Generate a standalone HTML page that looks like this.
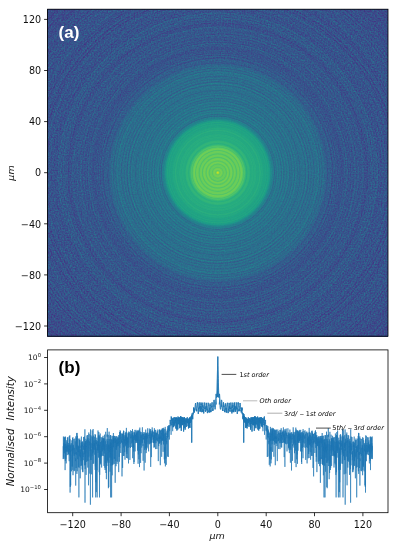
<!DOCTYPE html>
<html><head><meta charset="utf-8"><title>Figure</title>
<style>
html,body{margin:0;padding:0;background:#fff;}
body{width:394px;height:550px;overflow:hidden;}
svg{display:block}
.tk{stroke:#000;stroke-width:0.8}
.tl{font-family:"DejaVu Sans","Liberation Sans",sans-serif;font-size:9.6px;fill:#111}
.ts{font-family:"DejaVu Sans","Liberation Sans",sans-serif;font-size:7.5px;fill:#111}
.al{font-family:"DejaVu Sans","Liberation Sans",sans-serif;font-style:italic;font-size:10.2px;fill:#111}
.an{font-family:"DejaVu Sans","Liberation Sans",sans-serif;font-style:italic;font-size:6.5px;fill:#000}
.pl{font-family:"Liberation Sans",sans-serif;font-weight:bold;font-size:17px}
</style></head><body>
<svg width="394" height="550" viewBox="0 0 394 550">
<defs>
<clipPath id="ca"><rect x="47.6" y="9.2" width="340.4" height="327.0"/></clipPath>
<clipPath id="cb"><rect x="47.6" y="349.9" width="340.4" height="162.8"/></clipPath>
<filter id="nz" x="0" y="0" width="100%" height="100%" color-interpolation-filters="sRGB">
<feTurbulence type="fractalNoise" baseFrequency="0.7" numOctaves="2" seed="3" result="t"/>
<feColorMatrix in="t" type="matrix" values="-0.4 0 0 0 0.42  1.1 0 0 0 -0.24  0.25 0 0 0 0.43  0 0 0 0 1"/>
</filter>
<radialGradient id="mg" cx="217.8" cy="172.7" r="170.2" gradientUnits="userSpaceOnUse">
<stop offset="0" stop-color="#fff" stop-opacity="0"/>
<stop offset="0.15" stop-color="#fff" stop-opacity="0.0"/>
<stop offset="0.30" stop-color="#fff" stop-opacity="0.04"/>
<stop offset="0.34" stop-color="#fff" stop-opacity="0.10"/>
<stop offset="0.62" stop-color="#fff" stop-opacity="0.16"/>
<stop offset="0.68" stop-color="#fff" stop-opacity="0.22"/>
<stop offset="1" stop-color="#fff" stop-opacity="0.3"/>
</radialGradient>
<mask id="mk" maskUnits="userSpaceOnUse" x="0" y="0" width="394" height="550"><rect x="0" y="0" width="394" height="550" fill="url(#mg)"/></mask>
</defs>
<rect width="394" height="550" fill="#fff"/>
<!-- panel a -->
<g clip-path="url(#ca)">
<rect x="47.6" y="9.2" width="340.4" height="327.0" fill="#3a538b"/>
<g transform="translate(217.80,172.70)">
<circle r="249.19" fill="#3c4f8a"/>
<circle r="248.69" fill="#39568c"/>
<circle r="248.18" fill="#365c8d"/>
<circle r="247.68" fill="#375a8c"/>
<circle r="247.17" fill="#3e4a89"/>
<circle r="246.67" fill="#3f4788"/>
<circle r="246.16" fill="#3d4d8a"/>
<circle r="245.66" fill="#3c508b"/>
<circle r="245.15" fill="#3a538b"/>
<circle r="244.65" fill="#3d4d8a"/>
<circle r="244.14" fill="#443b84"/>
<circle r="243.64" fill="#3e4a89"/>
<circle r="243.13" fill="#375a8c"/>
<circle r="242.63" fill="#38598c"/>
<circle r="242.12" fill="#34608d"/>
<circle r="241.62" fill="#3b518b"/>
<circle r="241.11" fill="#3c4f8a"/>
<circle r="240.61" fill="#3a538b"/>
<circle r="240.10" fill="#3b528b"/>
<circle r="239.60" fill="#3d4e8a"/>
<circle r="239.09" fill="#3e4a89"/>
<circle r="238.59" fill="#39568c"/>
<circle r="238.08" fill="#375b8d"/>
<circle r="237.58" fill="#365d8d"/>
<circle r="237.07" fill="#39568c"/>
<circle r="236.57" fill="#3f4889"/>
<circle r="236.06" fill="#3f4788"/>
<circle r="235.56" fill="#3d4e8a"/>
<circle r="235.05" fill="#38598c"/>
<circle r="234.55" fill="#39558c"/>
<circle r="234.04" fill="#3b518b"/>
<circle r="233.54" fill="#3a548c"/>
<circle r="233.03" fill="#3e4989"/>
<circle r="232.53" fill="#3d4d8a"/>
<circle r="232.02" fill="#3b528b"/>
<circle r="231.52" fill="#3e4989"/>
<circle r="231.01" fill="#443a83"/>
<circle r="230.51" fill="#3f4788"/>
<circle r="230.00" fill="#3d4d8a"/>
<circle r="229.50" fill="#3e4a89"/>
<circle r="228.99" fill="#414287"/>
<circle r="228.48" fill="#453581"/>
<circle r="227.98" fill="#3b528b"/>
<circle r="227.47" fill="#39568c"/>
<circle r="226.97" fill="#3e4c8a"/>
<circle r="226.46" fill="#3f4788"/>
<circle r="225.96" fill="#3f4788"/>
<circle r="225.45" fill="#39558c"/>
<circle r="224.95" fill="#375a8c"/>
<circle r="224.44" fill="#375b8d"/>
<circle r="223.94" fill="#3a538b"/>
<circle r="223.43" fill="#404688"/>
<circle r="222.93" fill="#424086"/>
<circle r="222.42" fill="#3f4889"/>
<circle r="221.92" fill="#3a548c"/>
<circle r="221.41" fill="#3b528b"/>
<circle r="220.91" fill="#3c4f8a"/>
<circle r="220.40" fill="#3f4889"/>
<circle r="219.90" fill="#39568c"/>
<circle r="219.39" fill="#375b8d"/>
<circle r="218.89" fill="#3e4a89"/>
<circle r="218.38" fill="#404588"/>
<circle r="217.88" fill="#424086"/>
<circle r="217.37" fill="#3c4f8a"/>
<circle r="216.87" fill="#3c4f8a"/>
<circle r="216.36" fill="#3c508b"/>
<circle r="215.86" fill="#3c4f8a"/>
<circle r="215.35" fill="#414487"/>
<circle r="214.85" fill="#39568c"/>
<circle r="214.34" fill="#34618d"/>
<circle r="213.84" fill="#3b528b"/>
<circle r="213.33" fill="#3b518b"/>
<circle r="212.83" fill="#3a538b"/>
<circle r="212.32" fill="#404588"/>
<circle r="211.82" fill="#365d8d"/>
<circle r="211.31" fill="#34618d"/>
<circle r="210.81" fill="#3a548c"/>
<circle r="210.30" fill="#3b518b"/>
<circle r="209.80" fill="#3e4c8a"/>
<circle r="209.29" fill="#3e4c8a"/>
<circle r="208.78" fill="#38588c"/>
<circle r="208.28" fill="#365c8d"/>
<circle r="207.77" fill="#375a8c"/>
<circle r="207.27" fill="#39558c"/>
<circle r="206.76" fill="#443983"/>
<circle r="206.26" fill="#3f4889"/>
<circle r="205.75" fill="#375a8c"/>
<circle r="205.25" fill="#365c8d"/>
<circle r="204.74" fill="#32648e"/>
<circle r="204.24" fill="#365c8d"/>
<circle r="203.73" fill="#443b84"/>
<circle r="203.23" fill="#3f4889"/>
<circle r="202.72" fill="#33638d"/>
<circle r="202.22" fill="#33628d"/>
<circle r="201.71" fill="#39568c"/>
<circle r="201.21" fill="#3f4889"/>
<circle r="200.70" fill="#3d4e8a"/>
<circle r="200.20" fill="#3a538b"/>
<circle r="199.69" fill="#30698e"/>
<circle r="199.19" fill="#31668e"/>
<circle r="198.68" fill="#39568c"/>
<circle r="198.18" fill="#3a548c"/>
<circle r="197.67" fill="#3d4d8a"/>
<circle r="197.17" fill="#3c508b"/>
<circle r="196.66" fill="#375b8d"/>
<circle r="196.16" fill="#39568c"/>
<circle r="195.65" fill="#3d4d8a"/>
<circle r="195.15" fill="#365c8d"/>
<circle r="194.64" fill="#38598c"/>
<circle r="194.14" fill="#375a8c"/>
<circle r="193.63" fill="#355e8d"/>
<circle r="193.13" fill="#3b528b"/>
<circle r="192.62" fill="#3b518b"/>
<circle r="192.12" fill="#38598c"/>
<circle r="191.61" fill="#33628d"/>
<circle r="191.11" fill="#34608d"/>
<circle r="190.60" fill="#34608d"/>
<circle r="190.10" fill="#375a8c"/>
<circle r="189.59" fill="#3b528b"/>
<circle r="189.09" fill="#39558c"/>
<circle r="188.58" fill="#365d8d"/>
<circle r="188.07" fill="#38588c"/>
<circle r="187.57" fill="#414287"/>
<circle r="187.06" fill="#3b528b"/>
<circle r="186.56" fill="#365d8d"/>
<circle r="186.05" fill="#365d8d"/>
<circle r="185.55" fill="#3e4c8a"/>
<circle r="185.04" fill="#433d84"/>
<circle r="184.54" fill="#3c508b"/>
<circle r="184.03" fill="#39558c"/>
<circle r="183.53" fill="#375b8d"/>
<circle r="183.02" fill="#39568c"/>
<circle r="182.52" fill="#3a548c"/>
<circle r="182.01" fill="#365c8d"/>
<circle r="181.51" fill="#32658e"/>
<circle r="181.00" fill="#31678e"/>
<circle r="180.50" fill="#3d4d8a"/>
<circle r="179.99" fill="#424186"/>
<circle r="179.49" fill="#3f4889"/>
<circle r="178.98" fill="#3b528b"/>
<circle r="178.48" fill="#33638d"/>
<circle r="177.97" fill="#34618d"/>
<circle r="177.47" fill="#414487"/>
<circle r="176.96" fill="#433e85"/>
<circle r="176.46" fill="#39558c"/>
<circle r="175.95" fill="#38598c"/>
<circle r="175.45" fill="#375b8d"/>
<circle r="174.94" fill="#3a548c"/>
<circle r="174.44" fill="#39568c"/>
<circle r="173.93" fill="#32648e"/>
<circle r="173.43" fill="#33638d"/>
<circle r="172.92" fill="#33628d"/>
<circle r="172.42" fill="#3a548c"/>
<circle r="171.91" fill="#404588"/>
<circle r="171.41" fill="#3a548c"/>
<circle r="170.90" fill="#38598c"/>
<circle r="170.40" fill="#375a8c"/>
<circle r="169.89" fill="#39558c"/>
<circle r="169.39" fill="#38588c"/>
<circle r="168.88" fill="#32648e"/>
<circle r="168.38" fill="#38588c"/>
<circle r="167.87" fill="#38598c"/>
<circle r="167.36" fill="#39568c"/>
<circle r="166.86" fill="#3e4a89"/>
<circle r="166.35" fill="#39568c"/>
<circle r="165.85" fill="#355e8d"/>
<circle r="165.34" fill="#365c8d"/>
<circle r="164.84" fill="#375a8c"/>
<circle r="164.33" fill="#3b518b"/>
<circle r="163.83" fill="#3e4c8a"/>
<circle r="163.32" fill="#3c508b"/>
<circle r="162.82" fill="#3a548c"/>
<circle r="162.31" fill="#355e8d"/>
<circle r="161.81" fill="#375a8c"/>
<circle r="161.30" fill="#3f4788"/>
<circle r="160.80" fill="#39568c"/>
<circle r="160.29" fill="#306a8e"/>
<circle r="159.79" fill="#2f6b8e"/>
<circle r="159.28" fill="#33638d"/>
<circle r="158.78" fill="#38588c"/>
<circle r="158.27" fill="#39558c"/>
<circle r="157.77" fill="#355e8d"/>
<circle r="157.26" fill="#31678e"/>
<circle r="156.76" fill="#32658e"/>
<circle r="156.25" fill="#39568c"/>
<circle r="155.75" fill="#3e4a89"/>
<circle r="155.24" fill="#31668e"/>
<circle r="154.74" fill="#306a8e"/>
<circle r="154.23" fill="#34618d"/>
<circle r="153.73" fill="#365d8d"/>
<circle r="153.22" fill="#39558c"/>
<circle r="152.72" fill="#365d8d"/>
<circle r="152.21" fill="#3b528b"/>
<circle r="151.71" fill="#39558c"/>
<circle r="151.20" fill="#33638d"/>
<circle r="150.70" fill="#365d8d"/>
<circle r="150.19" fill="#433e85"/>
<circle r="149.69" fill="#3d4e8a"/>
<circle r="149.18" fill="#3b528b"/>
<circle r="148.68" fill="#3a538b"/>
<circle r="148.17" fill="#375b8d"/>
<circle r="147.66" fill="#3c4f8a"/>
<circle r="147.16" fill="#3d4e8a"/>
<circle r="146.65" fill="#39568c"/>
<circle r="146.15" fill="#33638d"/>
<circle r="145.64" fill="#34618d"/>
<circle r="145.14" fill="#31688e"/>
<circle r="144.63" fill="#365c8d"/>
<circle r="144.13" fill="#3a548c"/>
<circle r="143.62" fill="#38598c"/>
<circle r="143.12" fill="#365c8d"/>
<circle r="142.61" fill="#38588c"/>
<circle r="142.11" fill="#3a548c"/>
<circle r="141.60" fill="#38588c"/>
<circle r="141.10" fill="#33638d"/>
<circle r="140.59" fill="#31668e"/>
<circle r="140.09" fill="#355e8d"/>
<circle r="139.58" fill="#38598c"/>
<circle r="139.08" fill="#3e4c8a"/>
<circle r="138.57" fill="#375b8d"/>
<circle r="138.07" fill="#31678e"/>
<circle r="137.56" fill="#31688e"/>
<circle r="137.06" fill="#33628d"/>
<circle r="136.55" fill="#39558c"/>
<circle r="136.05" fill="#3d4e8a"/>
<circle r="135.54" fill="#39558c"/>
<circle r="135.04" fill="#34618d"/>
<circle r="134.53" fill="#355f8d"/>
<circle r="134.03" fill="#38598c"/>
<circle r="133.52" fill="#3b518b"/>
<circle r="133.02" fill="#3a548c"/>
<circle r="132.51" fill="#38588c"/>
<circle r="132.01" fill="#33638d"/>
<circle r="131.50" fill="#355f8d"/>
<circle r="131.00" fill="#404588"/>
<circle r="130.49" fill="#3a548c"/>
<circle r="129.99" fill="#306a8e"/>
<circle r="129.48" fill="#2f6b8e"/>
<circle r="128.98" fill="#34608d"/>
<circle r="128.47" fill="#3b528b"/>
<circle r="127.97" fill="#375b8d"/>
<circle r="127.46" fill="#34618d"/>
<circle r="126.95" fill="#365d8d"/>
<circle r="126.45" fill="#375a8c"/>
<circle r="125.94" fill="#3a538b"/>
<circle r="125.44" fill="#39558c"/>
<circle r="124.93" fill="#3b518b"/>
<circle r="124.43" fill="#3a548c"/>
<circle r="123.92" fill="#39558c"/>
<circle r="123.42" fill="#3d4e8a"/>
<circle r="122.91" fill="#39558c"/>
<circle r="122.41" fill="#33628d"/>
<circle r="121.90" fill="#3a548c"/>
<circle r="121.40" fill="#3b528b"/>
<circle r="120.89" fill="#33638d"/>
<circle r="120.39" fill="#38588c"/>
<circle r="119.88" fill="#3c508b"/>
<circle r="119.38" fill="#3a548c"/>
<circle r="118.87" fill="#31688e"/>
<circle r="118.37" fill="#32648e"/>
<circle r="117.86" fill="#404688"/>
<circle r="117.36" fill="#39558c"/>
<circle r="116.85" fill="#30698e"/>
<circle r="116.35" fill="#30698e"/>
<circle r="115.84" fill="#355f8d"/>
<circle r="115.34" fill="#3c4f8a"/>
<circle r="114.83" fill="#3c4f8a"/>
<circle r="114.33" fill="#3a548c"/>
<circle r="113.82" fill="#2e6d8e"/>
<circle r="113.32" fill="#30698e"/>
<circle r="112.81" fill="#375b8d"/>
<circle r="112.31" fill="#32658e"/>
<circle r="111.80" fill="#33628d"/>
<circle r="111.30" fill="#32658e"/>
<circle r="110.79" fill="#34618d"/>
<circle r="110.29" fill="#3a548c"/>
<circle r="109.78" fill="#38598c"/>
<circle r="109.28" fill="#31688e"/>
<circle r="108.77" fill="#30698e"/>
<circle r="108.27" fill="#30698e"/>
<circle r="107.76" fill="#2e6f8e"/>
<circle r="107.25" fill="#32658e"/>
<circle r="106.75" fill="#2e6f8e"/>
<circle r="106.24" fill="#2a768e"/>
<circle r="105.74" fill="#29798e"/>
<circle r="105.23" fill="#2c738e"/>
<circle r="104.73" fill="#375a8c"/>
<circle r="104.22" fill="#2d708e"/>
<circle r="103.72" fill="#2a788e"/>
<circle r="103.21" fill="#29798e"/>
<circle r="102.71" fill="#2d708e"/>
<circle r="102.20" fill="#365d8d"/>
<circle r="101.70" fill="#2a768e"/>
<circle r="101.19" fill="#26828e"/>
<circle r="100.69" fill="#287c8e"/>
<circle r="100.18" fill="#29798e"/>
<circle r="99.68" fill="#2a768e"/>
<circle r="99.17" fill="#306a8e"/>
<circle r="98.67" fill="#2a778e"/>
<circle r="98.16" fill="#287d8e"/>
<circle r="97.66" fill="#2a788e"/>
<circle r="97.15" fill="#2c728e"/>
<circle r="96.65" fill="#355f8d"/>
<circle r="96.14" fill="#2d718e"/>
<circle r="95.64" fill="#2a778e"/>
<circle r="95.13" fill="#297a8e"/>
<circle r="94.63" fill="#297a8e"/>
<circle r="94.12" fill="#2e6f8e"/>
<circle r="93.62" fill="#33638d"/>
<circle r="93.11" fill="#2b758e"/>
<circle r="92.61" fill="#287c8e"/>
<circle r="92.10" fill="#297b8e"/>
<circle r="91.60" fill="#2e6f8e"/>
<circle r="91.09" fill="#375a8c"/>
<circle r="90.59" fill="#2e6e8e"/>
<circle r="90.08" fill="#2a768e"/>
<circle r="89.58" fill="#24878e"/>
<circle r="89.07" fill="#25838e"/>
<circle r="88.57" fill="#2e6d8e"/>
<circle r="88.06" fill="#34618d"/>
<circle r="87.55" fill="#2c718e"/>
<circle r="87.05" fill="#2a788e"/>
<circle r="86.54" fill="#27808e"/>
<circle r="86.04" fill="#297a8e"/>
<circle r="85.53" fill="#2e6e8e"/>
<circle r="85.03" fill="#297b8e"/>
<circle r="84.52" fill="#2c738e"/>
<circle r="84.02" fill="#2a768e"/>
<circle r="83.51" fill="#297b8e"/>
<circle r="83.01" fill="#2c718e"/>
<circle r="82.50" fill="#34618d"/>
<circle r="82.00" fill="#2b758e"/>
<circle r="81.49" fill="#2a768e"/>
<circle r="80.99" fill="#2a768e"/>
<circle r="80.48" fill="#277e8e"/>
<circle r="79.98" fill="#306a8e"/>
<circle r="79.47" fill="#2b748e"/>
<circle r="78.97" fill="#287d8e"/>
<circle r="78.46" fill="#26818e"/>
<circle r="77.96" fill="#287d8e"/>
<circle r="77.45" fill="#2e6d8e"/>
<circle r="76.95" fill="#32658e"/>
<circle r="76.44" fill="#277e8e"/>
<circle r="75.94" fill="#25838e"/>
<circle r="75.43" fill="#287c8e"/>
<circle r="74.93" fill="#2b758e"/>
<circle r="74.42" fill="#33638d"/>
<circle r="73.92" fill="#2a788e"/>
<circle r="73.41" fill="#29798e"/>
<circle r="72.91" fill="#297a8e"/>
<circle r="72.40" fill="#2b748e"/>
<circle r="71.90" fill="#33628d"/>
<circle r="71.39" fill="#287c8e"/>
<circle r="70.89" fill="#24868e"/>
<circle r="70.38" fill="#277f8e"/>
<circle r="69.88" fill="#297b8e"/>
<circle r="69.37" fill="#2c738e"/>
<circle r="68.87" fill="#2e6f8e"/>
<circle r="68.36" fill="#287d8e"/>
<circle r="67.86" fill="#26828e"/>
<circle r="67.35" fill="#287d8e"/>
<circle r="66.84" fill="#2b758e"/>
<circle r="66.34" fill="#32648e"/>
<circle r="65.83" fill="#29798e"/>
<circle r="65.33" fill="#25858e"/>
<circle r="64.82" fill="#25858e"/>
<circle r="64.32" fill="#29798e"/>
<circle r="63.81" fill="#32648e"/>
<circle r="63.31" fill="#297a8e"/>
<circle r="62.80" fill="#26818e"/>
<circle r="62.30" fill="#26828e"/>
<circle r="61.79" fill="#287c8e"/>
<circle r="61.29" fill="#2e6f8e"/>
<circle r="60.78" fill="#26818e"/>
<circle r="60.28" fill="#25858e"/>
<circle r="59.77" fill="#24868e"/>
<circle r="59.27" fill="#277e8e"/>
<circle r="58.76" fill="#30698e"/>
<circle r="58.26" fill="#297a8e"/>
<circle r="57.75" fill="#27808e"/>
<circle r="57.25" fill="#2b758e"/>
<circle r="56.74" fill="#33628d"/>
<circle r="56.24" fill="#26828e"/>
<circle r="55.73" fill="#24878e"/>
<circle r="55.23" fill="#25838e"/>
<circle r="54.72" fill="#26828e"/>
<circle r="54.22" fill="#228b8d"/>
<circle r="53.71" fill="#21908d"/>
<circle r="53.21" fill="#228d8d"/>
<circle r="52.70" fill="#1f9a8a"/>
<circle r="52.20" fill="#1fa188"/>
<circle r="51.69" fill="#1fa287"/>
<circle r="51.19" fill="#1fa287"/>
<circle r="50.68" fill="#24aa83"/>
<circle r="50.18" fill="#24aa83"/>
<circle r="49.67" fill="#1fa287"/>
<circle r="49.17" fill="#21a585"/>
<circle r="48.66" fill="#22a884"/>
<circle r="48.16" fill="#25ab82"/>
<circle r="47.65" fill="#21a585"/>
<circle r="47.14" fill="#21a685"/>
<circle r="46.64" fill="#22a785"/>
<circle r="46.13" fill="#23a983"/>
<circle r="45.63" fill="#22a785"/>
<circle r="45.12" fill="#25ac82"/>
<circle r="44.62" fill="#26ad81"/>
<circle r="44.11" fill="#25ac82"/>
<circle r="43.61" fill="#22a884"/>
<circle r="43.10" fill="#2ab07f"/>
<circle r="42.60" fill="#2cb17e"/>
<circle r="42.09" fill="#2ab07f"/>
<circle r="41.59" fill="#24aa83"/>
<circle r="41.08" fill="#25ab82"/>
<circle r="40.58" fill="#26ad81"/>
<circle r="40.07" fill="#26ad81"/>
<circle r="39.57" fill="#25ab82"/>
<circle r="39.06" fill="#24aa83"/>
<circle r="38.56" fill="#2cb17e"/>
<circle r="38.05" fill="#28ae80"/>
<circle r="37.55" fill="#29af7f"/>
<circle r="37.04" fill="#2ab07f"/>
<circle r="36.54" fill="#25ac82"/>
<circle r="36.03" fill="#27ad81"/>
<circle r="35.53" fill="#2db27d"/>
<circle r="35.02" fill="#28ae80"/>
<circle r="34.52" fill="#29af7f"/>
<circle r="34.01" fill="#28ae80"/>
<circle r="33.51" fill="#27ad81"/>
<circle r="33.00" fill="#26ad81"/>
<circle r="32.50" fill="#2db27d"/>
<circle r="31.99" fill="#31b57b"/>
<circle r="31.49" fill="#34b679"/>
<circle r="30.98" fill="#35b779"/>
<circle r="30.48" fill="#34b679"/>
<circle r="29.97" fill="#31b57b"/>
<circle r="29.47" fill="#28ae80"/>
<circle r="28.96" fill="#2eb37c"/>
<circle r="28.46" fill="#35b779"/>
<circle r="27.95" fill="#3bbb75"/>
<circle r="27.45" fill="#44bf70"/>
<circle r="26.94" fill="#50c46a"/>
<circle r="26.43" fill="#52c569"/>
<circle r="25.93" fill="#40bd72"/>
<circle r="25.42" fill="#5ac864"/>
<circle r="24.92" fill="#63cb5f"/>
<circle r="24.41" fill="#69cd5b"/>
<circle r="23.91" fill="#75d054"/>
<circle r="23.40" fill="#6ece58"/>
<circle r="22.90" fill="#5ec962"/>
<circle r="22.39" fill="#4ac16d"/>
<circle r="21.89" fill="#65cb5e"/>
<circle r="21.38" fill="#6ece58"/>
<circle r="20.88" fill="#6ccd5a"/>
<circle r="20.37" fill="#6ccd5a"/>
<circle r="19.87" fill="#67cc5c"/>
<circle r="19.36" fill="#58c765"/>
<circle r="18.86" fill="#48c16e"/>
<circle r="18.35" fill="#60ca60"/>
<circle r="17.85" fill="#69cd5b"/>
<circle r="17.34" fill="#6ece58"/>
<circle r="16.84" fill="#70cf57"/>
<circle r="16.33" fill="#69cd5b"/>
<circle r="15.83" fill="#50c46a"/>
<circle r="15.32" fill="#50c46a"/>
<circle r="14.82" fill="#69cd5b"/>
<circle r="14.31" fill="#73d056"/>
<circle r="13.81" fill="#75d054"/>
<circle r="13.30" fill="#70cf57"/>
<circle r="12.80" fill="#6ece58"/>
<circle r="12.29" fill="#54c568"/>
<circle r="11.79" fill="#58c765"/>
<circle r="11.28" fill="#63cb5f"/>
<circle r="10.78" fill="#77d153"/>
<circle r="10.27" fill="#77d153"/>
<circle r="9.77" fill="#69cd5b"/>
<circle r="9.26" fill="#5ac864"/>
<circle r="8.76" fill="#4ec36b"/>
<circle r="8.25" fill="#67cc5c"/>
<circle r="7.75" fill="#67cc5c"/>
<circle r="7.24" fill="#69cd5b"/>
<circle r="6.73" fill="#6ccd5a"/>
<circle r="6.23" fill="#63cb5f"/>
<circle r="5.72" fill="#50c46a"/>
<circle r="5.22" fill="#65cb5e"/>
<circle r="4.71" fill="#6ece58"/>
<circle r="4.21" fill="#75d054"/>
<circle r="3.70" fill="#7ad151"/>
<circle r="3.20" fill="#75d054"/>
<circle r="2.69" fill="#63cb5f"/>
<circle r="2.19" fill="#65cb5e"/>
<circle r="1.68" fill="#89d548"/>
<circle r="1.18" fill="#a5db36"/>
<circle r="0.67" fill="#dfe318"/>
<circle r="0.17" fill="#fde725"/>
</g>
<g mask="url(#mk)"><rect x="47.6" y="9.2" width="340.4" height="327.0" filter="url(#nz)"/></g>
</g>
<rect x="47.6" y="9.2" width="340.4" height="327.0" fill="none" stroke="#000" stroke-width="0.8"/>
<line x1="44.1" x2="47.6" y1="19.4" y2="19.4" class="tk"/><text x="41.1" y="23.1" text-anchor="end" class="tl">120</text>
<line x1="44.1" x2="47.6" y1="70.5" y2="70.5" class="tk"/><text x="41.1" y="74.2" text-anchor="end" class="tl">80</text>
<line x1="44.1" x2="47.6" y1="121.6" y2="121.6" class="tk"/><text x="41.1" y="125.3" text-anchor="end" class="tl">40</text>
<line x1="44.1" x2="47.6" y1="172.7" y2="172.7" class="tk"/><text x="41.1" y="176.4" text-anchor="end" class="tl">0</text>
<line x1="44.1" x2="47.6" y1="223.8" y2="223.8" class="tk"/><text x="41.1" y="227.5" text-anchor="end" class="tl">−40</text>
<line x1="44.1" x2="47.6" y1="274.9" y2="274.9" class="tk"/><text x="41.1" y="278.6" text-anchor="end" class="tl">−80</text>
<line x1="44.1" x2="47.6" y1="326.0" y2="326.0" class="tk"/><text x="41.1" y="329.7" text-anchor="end" class="tl">−120</text>
<text transform="translate(13.9,173.0) rotate(-90)" text-anchor="middle" class="al" style="font-size:9.5px">µm</text>
<text x="58.6" y="37.8" class="pl" fill="#fff">(a)</text>
<!-- panel b -->
<g clip-path="url(#cb)">
<polyline points="63.1,446.2 63.2,459.1 63.3,450.3 63.4,436.5 63.5,450.4 63.6,445.7 63.7,457.5 63.8,443.3 63.9,447.0 64.0,458.9 64.1,442.0 64.2,437.3 64.3,449.8 64.4,437.6 64.5,453.3 64.6,446.2 64.7,448.6 64.8,444.2 64.9,445.5 65.0,436.6 65.1,470.1 65.2,443.7 65.3,459.0 65.4,460.8 65.5,436.8 65.6,451.7 65.7,444.4 65.8,458.9 65.9,458.0 66.0,444.6 66.1,449.7 66.2,463.4 66.3,446.5 66.4,447.7 66.5,446.7 66.6,451.8 66.7,440.3 66.8,444.6 66.9,450.7 67.0,442.3 67.1,450.7 67.2,455.1 67.3,444.6 67.4,437.5 67.5,448.0 67.6,448.5 67.7,445.3 67.8,451.5 67.9,437.2 68.0,438.9 68.1,452.3 68.2,451.7 68.3,448.4 68.4,454.3 68.5,445.6 68.6,443.1 68.7,454.4 68.8,445.0 68.9,446.2 69.0,450.5 69.1,458.8 69.2,461.2 69.3,436.1 69.4,443.2 69.5,451.5 69.6,447.1 69.7,444.3 69.8,435.3 69.9,455.4 70.0,439.2 70.1,492.6 70.2,449.8 70.3,486.9 70.4,449.2 70.5,445.4 70.6,480.5 70.7,485.4 70.8,458.6 70.9,455.0 71.0,444.4 71.1,451.4 71.2,443.1 71.3,444.7 71.4,447.7 71.5,471.3 71.6,454.2 71.7,444.4 71.8,442.7 71.9,440.3 72.0,447.9 72.1,462.0 72.2,466.8 72.3,454.9 72.4,465.7 72.5,438.1 72.6,454.7 72.7,447.9 72.8,469.9 72.9,437.2 73.0,475.2 73.1,445.8 73.2,449.6 73.3,446.8 73.4,444.9 73.5,447.4 73.6,448.4 73.8,453.3 73.9,439.0 74.0,471.2 74.1,453.1 74.2,455.9 74.3,447.8 74.4,448.0 74.5,455.0 74.6,459.8 74.7,470.7 74.8,443.1 74.9,438.5 75.0,447.1 75.1,450.0 75.2,454.1 75.3,441.4 75.4,449.5 75.5,461.1 75.6,458.4 75.7,485.6 75.8,436.4 75.9,442.3 76.0,443.5 76.1,468.0 76.2,453.6 76.3,452.0 76.4,454.9 76.5,444.8 76.6,437.9 76.7,449.3 76.8,433.1 76.9,473.9 77.0,432.9 77.1,446.4 77.2,471.2 77.3,448.0 77.4,435.9 77.5,451.9 77.6,455.5 77.7,459.1 77.8,445.0 77.9,447.5 78.0,447.8 78.1,451.8 78.2,449.9 78.3,438.6 78.4,467.2 78.5,452.6 78.6,446.3 78.7,452.3 78.8,451.2 78.9,497.4 79.0,446.4 79.1,459.2 79.2,467.7 79.3,463.1 79.4,455.5 79.5,440.0 79.6,456.4 79.7,438.6 79.8,448.0 79.9,445.5 80.0,440.3 80.1,450.4 80.2,478.3 80.3,470.9 80.4,449.5 80.5,457.4 80.6,452.2 80.7,459.2 80.8,463.9 80.9,466.0 81.0,445.7 81.1,461.1 81.2,442.9 81.3,451.4 81.4,436.6 81.5,465.4 81.6,448.3 81.7,442.1 81.8,446.5 81.9,446.1 82.0,445.3 82.1,469.5 82.2,444.8 82.3,446.3 82.4,441.3 82.5,454.3 82.6,471.7 82.7,442.1 82.8,449.7 82.9,472.2 83.0,451.1 83.1,457.0 83.2,452.7 83.3,460.2 83.4,449.3 83.5,448.7 83.6,437.0 83.7,446.7 83.8,449.8 83.9,446.0 84.0,446.7 84.1,450.4 84.2,443.6 84.3,454.3 84.4,436.6 84.5,453.9 84.6,465.3 84.7,451.8 84.8,444.7 84.9,429.3 85.0,502.7 85.1,445.6 85.2,469.1 85.3,443.1 85.4,445.5 85.5,441.3 85.6,464.8 85.7,441.3 85.8,453.1 85.9,438.8 86.0,441.9 86.1,474.9 86.2,456.2 86.3,455.8 86.4,446.0 86.5,447.2 86.6,440.2 86.7,462.0 86.8,443.2 86.9,435.5 87.0,443.9 87.1,450.7 87.2,460.7 87.3,454.8 87.5,441.7 87.6,435.0 87.7,460.3 87.8,467.6 87.9,437.9 88.0,448.7 88.1,461.0 88.2,439.9 88.3,442.9 88.4,444.1 88.5,485.3 88.6,481.0 88.7,437.6 88.8,432.5 88.9,456.6 89.0,447.2 89.1,439.5 89.2,434.2 89.3,442.8 89.4,441.5 89.5,449.4 89.6,458.6 89.7,462.2 89.8,473.6 89.9,443.2 90.0,445.1 90.1,438.8 90.2,450.8 90.3,442.1 90.4,504.7 90.5,429.4 90.6,460.0 90.7,455.9 90.8,435.1 90.9,443.8 91.0,448.1 91.1,443.2 91.2,460.1 91.3,449.4 91.4,474.3 91.5,462.9 91.6,458.6 91.7,452.6 91.8,436.4 91.9,442.9 92.0,447.9 92.1,456.2 92.2,430.3 92.3,436.5 92.4,441.5 92.5,475.6 92.6,497.4 92.7,436.8 92.8,453.5 92.9,442.6 93.0,463.8 93.1,429.0 93.2,450.0 93.3,452.3 93.4,435.6 93.5,449.7 93.6,447.8 93.7,463.6 93.8,459.0 93.9,445.7 94.0,440.6 94.1,441.4 94.2,446.5 94.3,444.0 94.4,443.2 94.5,449.8 94.6,448.4 94.7,436.8 94.8,454.7 94.9,443.3 95.0,434.2 95.1,439.0 95.2,469.9 95.3,439.9 95.4,466.2 95.5,434.8 95.6,440.3 95.7,497.4 95.8,446.5 95.9,482.2 96.0,448.6 96.1,458.6 96.2,459.6 96.3,492.1 96.4,442.4 96.5,443.9 96.6,440.2 96.7,445.7 96.8,437.7 96.9,437.8 97.0,470.2 97.1,445.5 97.2,497.4 97.3,462.2 97.4,441.1 97.5,446.2 97.6,446.4 97.7,450.2 97.8,444.2 97.9,450.3 98.0,430.5 98.1,452.9 98.2,442.7 98.3,439.1 98.4,435.7 98.5,457.6 98.6,441.9 98.7,449.7 98.8,432.0 98.9,450.7 99.0,440.5 99.1,435.0 99.2,472.2 99.3,454.8 99.4,444.9 99.5,497.4 99.6,436.4 99.7,474.9 99.8,453.8 99.9,451.5 100.0,459.2 100.1,437.0 100.2,433.5 100.3,451.5 100.4,464.4 100.5,442.0 100.6,463.2 100.7,454.5 100.8,451.0 100.9,456.2 101.0,437.2 101.2,439.3 101.3,445.2 101.4,456.4 101.5,440.7 101.6,467.5 101.7,451.2 101.8,445.9 101.9,450.9 102.0,437.5 102.1,455.6 102.2,440.6 102.3,438.8 102.4,437.6 102.5,444.0 102.6,451.4 102.7,440.5 102.8,442.5 102.9,455.8 103.0,435.8 103.1,439.4 103.2,449.9 103.3,438.2 103.4,446.6 103.5,446.7 103.6,442.7 103.7,439.1 103.8,455.9 103.9,438.3 104.0,465.9 104.1,442.6 104.2,438.6 104.3,453.5 104.4,441.2 104.5,434.7 104.6,450.5 104.7,445.2 104.8,451.0 104.9,467.8 105.0,455.5 105.1,470.0 105.2,450.7 105.3,444.1 105.4,441.3 105.5,457.2 105.6,463.1 105.7,431.8 105.8,439.1 105.9,446.7 106.0,473.0 106.1,439.4 106.2,451.3 106.3,453.1 106.4,479.2 106.5,464.0 106.6,444.3 106.7,450.0 106.8,454.8 106.9,466.0 107.0,448.4 107.1,434.5 107.2,436.8 107.3,428.1 107.4,446.5 107.5,460.6 107.6,460.2 107.7,441.1 107.8,462.6 107.9,439.2 108.0,450.4 108.1,446.2 108.2,434.9 108.3,472.1 108.4,488.2 108.5,444.6 108.6,445.7 108.7,447.1 108.8,487.1 108.9,446.7 109.0,462.8 109.1,431.7 109.2,452.5 109.3,439.2 109.4,439.1 109.5,447.1 109.6,448.1 109.7,457.6 109.8,448.6 109.9,444.6 110.0,471.7 110.1,435.4 110.2,443.4 110.3,445.8 110.4,451.6 110.5,435.0 110.6,497.4 110.7,442.1 110.8,457.3 110.9,443.0 111.0,445.4 111.1,465.7 111.2,439.3 111.3,459.6 111.4,439.4 111.5,461.3 111.6,497.4 111.7,453.6 111.8,438.9 111.9,435.7 112.0,450.8 112.1,446.6 112.2,475.3 112.3,444.2 112.4,440.0 112.5,448.1 112.6,465.2 112.7,459.1 112.8,436.1 112.9,464.7 113.0,438.5 113.1,448.8 113.2,463.8 113.3,458.4 113.4,433.0 113.5,447.3 113.6,435.9 113.7,443.1 113.8,438.4 113.9,443.2 114.0,438.5 114.1,440.7 114.2,459.1 114.3,454.0 114.4,435.9 114.5,458.4 114.6,457.3 114.7,463.9 114.8,443.9 115.0,436.0 115.1,445.2 115.2,482.8 115.3,438.2 115.4,443.0 115.5,437.6 115.6,443.2 115.7,450.2 115.8,460.9 115.9,436.5 116.0,466.2 116.1,443.6 116.2,441.3 116.3,446.5 116.4,449.9 116.5,439.4 116.6,447.5 116.7,442.0 116.8,436.0 116.9,448.8 117.0,463.9 117.1,437.1 117.2,440.8 117.3,439.6 117.4,461.7 117.5,441.8 117.6,443.6 117.7,438.2 117.8,445.6 117.9,441.5 118.0,442.1 118.1,446.1 118.2,436.9 118.3,443.4 118.4,438.5 118.5,440.4 118.6,447.8 118.7,472.1 118.8,435.1 118.9,437.9 119.0,439.2 119.1,438.4 119.2,456.9 119.3,435.5 119.4,461.7 119.5,440.8 119.6,432.0 119.7,442.8 119.8,447.9 119.9,444.4 120.0,441.1 120.1,430.3 120.2,438.9 120.3,443.9 120.4,441.4 120.5,431.4 120.6,436.6 120.7,452.2 120.8,453.0 120.9,435.5 121.0,433.0 121.1,438.5 121.2,437.2 121.3,442.2 121.4,442.2 121.5,439.5 121.6,439.3 121.7,442.8 121.8,434.1 121.9,444.0 122.0,476.4 122.1,448.2 122.2,436.8 122.3,433.9 122.4,444.3 122.5,440.8 122.6,467.9 122.7,433.7 122.8,439.6 122.9,440.1 123.0,437.8 123.1,436.6 123.2,432.5 123.3,452.0 123.4,456.0 123.5,430.6 123.6,447.4 123.7,441.8 123.8,431.0 123.9,435.4 124.0,448.7 124.1,455.8 124.2,436.6 124.3,443.1 124.4,439.9 124.5,440.9 124.6,439.1 124.7,452.2 124.8,443.5 124.9,434.9 125.0,459.7 125.1,445.3 125.2,441.1 125.3,433.1 125.4,446.3 125.5,435.8 125.6,440.6 125.7,440.2 125.8,431.9 125.9,444.9 126.0,438.7 126.1,444.1 126.2,435.3 126.3,440.3 126.4,427.9 126.5,458.0 126.6,435.9 126.7,451.6 126.8,432.5 126.9,454.0 127.0,436.9 127.1,441.8 127.2,437.5 127.3,443.3 127.4,439.4 127.5,458.3 127.6,453.6 127.7,438.3 127.8,445.3 127.9,438.1 128.0,447.9 128.1,433.5 128.2,442.5 128.3,437.4 128.4,432.7 128.5,463.4 128.7,436.3 128.8,431.5 128.9,437.1 129.0,447.3 129.1,445.7 129.2,444.7 129.3,442.2 129.4,437.9 129.5,435.2 129.6,432.2 129.7,435.2 129.8,436.5 129.9,459.9 130.0,443.6 130.1,433.8 130.2,442.4 130.3,443.0 130.4,443.0 130.5,448.0 130.6,430.3 130.7,434.0 130.8,438.0 130.9,437.0 131.0,438.7 131.1,435.5 131.2,438.0 131.3,443.4 131.4,437.8 131.5,433.5 131.6,431.0 131.7,447.0 131.8,442.5 131.9,436.9 132.0,436.9 132.1,433.3 132.2,436.5 132.3,434.2 132.4,442.6 132.5,429.1 132.6,458.2 132.7,433.0 132.8,435.0 132.9,440.2 133.0,447.9 133.1,431.6 133.2,440.1 133.3,435.3 133.4,447.4 133.5,436.7 133.6,451.5 133.7,448.9 133.8,444.7 133.9,464.0 134.0,439.0 134.1,462.0 134.2,437.6 134.3,432.2 134.4,439.4 134.5,432.6 134.6,439.7 134.7,433.1 134.8,437.8 134.9,429.9 135.0,432.8 135.1,451.4 135.2,434.8 135.3,440.3 135.4,443.1 135.5,441.3 135.6,434.8 135.7,440.8 135.8,438.1 135.9,435.9 136.0,429.9 136.1,440.4 136.2,431.4 136.3,432.7 136.4,441.2 136.5,433.1 136.6,442.8 136.7,436.8 136.8,433.6 136.9,436.6 137.0,431.4 137.1,442.4 137.2,434.4 137.3,440.3 137.4,443.0 137.5,431.6 137.6,450.7 137.7,440.6 137.8,430.2 137.9,440.9 138.0,436.1 138.1,463.8 138.2,430.9 138.3,433.2 138.4,454.4 138.5,441.5 138.6,430.6 138.7,431.9 138.8,434.9 138.9,459.3 139.0,451.2 139.1,445.2 139.2,435.0 139.3,429.5 139.4,430.6 139.5,467.1 139.6,438.6 139.7,436.8 139.8,427.6 139.9,431.0 140.0,450.6 140.1,439.8 140.2,445.1 140.3,431.6 140.4,438.9 140.5,454.0 140.6,462.9 140.7,436.2 140.8,432.3 140.9,442.9 141.0,435.4 141.1,453.2 141.2,443.1 141.3,436.8 141.4,437.6 141.5,434.6 141.6,435.3 141.7,447.6 141.8,440.5 141.9,432.2 142.0,433.7 142.1,444.5 142.2,435.1 142.4,427.3 142.5,442.8 142.6,433.5 142.7,435.4 142.8,442.0 142.9,446.1 143.0,444.2 143.1,460.8 143.2,435.2 143.3,435.4 143.4,434.0 143.5,439.6 143.6,438.3 143.7,439.0 143.8,432.2 143.9,440.5 144.0,445.3 144.1,470.5 144.2,438.3 144.3,432.5 144.4,435.4 144.5,443.1 144.6,436.1 144.7,449.9 144.8,446.6 144.9,434.5 145.0,435.0 145.1,434.8 145.2,462.7 145.3,432.8 145.4,438.7 145.5,436.4 145.6,448.4 145.7,429.6 145.8,438.0 145.9,436.8 146.0,441.2 146.1,434.1 146.2,453.1 146.3,442.1 146.4,450.1 146.5,432.9 146.6,442.0 146.7,438.3 146.8,436.3 146.9,446.9 147.0,434.0 147.1,448.3 147.2,436.9 147.3,432.4 147.4,438.4 147.5,436.2 147.6,432.2 147.7,428.3 147.8,434.3 147.9,439.5 148.0,443.7 148.1,438.9 148.2,437.8 148.3,435.0 148.4,436.5 148.5,449.1 148.6,451.4 148.7,443.4 148.8,433.5 148.9,433.4 149.0,434.8 149.1,435.9 149.2,432.5 149.3,444.3 149.4,428.6 149.5,433.7 149.6,433.6 149.7,438.2 149.8,433.8 149.9,430.7 150.0,430.9 150.1,443.8 150.2,437.6 150.3,442.6 150.4,439.4 150.5,432.6 150.6,429.0 150.7,466.9 150.8,431.6 150.9,430.5 151.0,437.7 151.1,442.9 151.2,435.6 151.3,433.4 151.4,457.1 151.5,436.6 151.6,434.3 151.7,442.4 151.8,431.4 151.9,442.6 152.0,439.0 152.1,435.1 152.2,427.4 152.3,433.4 152.4,437.3 152.5,430.3 152.6,430.9 152.7,434.2 152.8,435.6 152.9,431.8 153.0,439.7 153.1,437.7 153.2,435.3 153.3,431.7 153.4,443.0 153.5,437.9 153.6,442.9 153.7,435.6 153.8,438.3 153.9,447.6 154.0,434.9 154.1,438.2 154.2,433.0 154.3,433.4 154.4,428.2 154.5,447.2 154.6,433.1 154.7,432.5 154.8,443.1 154.9,429.9 155.0,441.4 155.1,437.7 155.2,436.2 155.3,433.0 155.4,432.7 155.5,436.2 155.6,449.1 155.7,429.9 155.8,435.3 155.9,443.2 156.1,440.8 156.2,437.8 156.3,437.3 156.4,433.6 156.5,440.1 156.6,432.6 156.7,434.2 156.8,433.4 156.9,449.0 157.0,438.0 157.1,440.8 157.2,437.9 157.3,431.2 157.4,435.2 157.5,439.7 157.6,441.4 157.7,431.5 157.8,429.5 157.9,433.3 158.0,434.1 158.1,433.9 158.2,438.7 158.3,461.1 158.4,434.4 158.5,442.6 158.6,444.3 158.7,446.1 158.8,436.9 158.9,436.7 159.0,441.9 159.1,443.5 159.2,437.5 159.3,430.0 159.4,439.0 159.5,429.3 159.6,443.3 159.7,441.9 159.8,436.3 159.9,443.3 160.0,430.1 160.1,430.6 160.2,441.5 160.3,465.2 160.4,437.2 160.5,438.9 160.6,430.8 160.7,439.0 160.8,435.9 160.9,437.4 161.0,442.1 161.1,432.1 161.2,429.4 161.3,444.7 161.4,429.9 161.5,434.5 161.6,433.0 161.7,456.8 161.8,435.1 161.9,440.7 162.0,438.2 162.1,440.3 162.2,434.2 162.3,428.1 162.4,435.0 162.5,440.5 162.6,429.1 162.7,435.6 162.8,428.9 162.9,440.9 163.0,444.3 163.1,451.8 163.2,431.5 163.3,440.4 163.4,427.8 163.5,444.4 163.6,430.4 163.7,440.5 163.8,437.1 163.9,435.6 164.0,428.6 164.1,435.5 164.2,436.7 164.3,459.4 164.4,433.5 164.5,437.9 164.6,463.3 164.7,447.2 164.8,451.3 164.9,442.7 165.0,429.1 165.1,441.1 165.2,426.9 165.3,436.4 165.4,466.4 165.5,433.8 165.6,433.5 165.7,441.4 165.8,458.5 165.9,432.5 166.0,433.3 166.1,433.6 166.2,459.8 166.3,464.8 166.4,437.5 166.5,442.4 166.6,441.0 166.7,444.2 166.8,436.0 166.9,437.0 167.0,431.1 167.1,435.1 167.2,429.6 167.3,432.6 167.4,438.1 167.5,433.1 167.6,456.5 167.7,426.2 167.8,432.7 167.9,430.9 168.0,436.9 168.1,428.3 168.2,430.7 168.3,457.0 168.4,426.2 168.5,429.6 168.6,428.6 168.7,429.4 168.8,425.0 168.9,431.4 169.0,429.9 169.1,426.5 169.2,427.4 169.3,427.7 169.4,439.5 169.5,425.1 169.6,430.8 169.7,430.3 169.9,427.3 170.0,419.9 170.1,420.8 170.2,421.5 170.3,424.2 170.4,424.5 170.5,423.0 170.6,420.0 170.7,420.9 170.8,426.2 170.9,425.3 171.0,422.2 171.1,434.8 171.2,416.2 171.3,421.3 171.4,417.2 171.5,420.1 171.6,417.6 171.7,425.2 171.8,423.7 171.9,425.0 172.0,419.2 172.1,421.7 172.2,423.0 172.3,422.3 172.4,420.2 172.5,418.7 172.6,430.5 172.7,431.2 172.8,419.1 172.9,417.9 173.0,425.9 173.1,427.3 173.2,418.6 173.3,418.2 173.4,419.8 173.5,426.4 173.6,422.9 173.7,426.1 173.8,426.5 173.9,424.7 174.0,419.2 174.1,417.2 174.2,419.2 174.3,422.9 174.4,425.5 174.5,422.1 174.6,420.7 174.7,422.5 174.8,423.5 174.9,422.2 175.0,417.8 175.1,417.3 175.2,422.4 175.3,420.5 175.4,420.8 175.5,421.1 175.6,417.8 175.7,420.5 175.8,428.5 175.9,418.7 176.0,420.1 176.1,418.4 176.2,422.4 176.3,420.6 176.4,420.9 176.5,417.4 176.6,423.6 176.7,428.8 176.8,418.0 176.9,430.5 177.0,418.5 177.1,419.0 177.2,418.8 177.3,425.8 177.4,423.2 177.5,426.4 177.6,421.7 177.7,420.6 177.8,429.4 177.9,420.4 178.0,416.6 178.1,420.2 178.2,419.4 178.3,419.9 178.4,417.7 178.5,419.5 178.6,423.9 178.7,420.1 178.8,417.7 178.9,418.6 179.0,424.4 179.1,421.3 179.2,423.5 179.3,422.2 179.4,420.4 179.5,417.5 179.6,423.6 179.7,428.2 179.8,422.2 179.9,419.0 180.0,421.7 180.1,421.7 180.2,424.8 180.3,417.7 180.4,422.7 180.5,417.0 180.6,416.3 180.7,427.4 180.8,416.4 180.9,418.7 181.0,418.5 181.1,425.3 181.2,422.5 181.3,430.8 181.4,420.9 181.5,424.7 181.6,417.1 181.7,423.3 181.8,421.4 181.9,425.3 182.0,423.4 182.1,418.3 182.2,425.0 182.3,417.3 182.4,420.6 182.5,419.7 182.6,421.4 182.7,418.3 182.8,419.2 182.9,420.3 183.0,424.8 183.1,417.3 183.2,419.4 183.3,418.3 183.4,421.5 183.6,431.5 183.7,421.9 183.8,423.0 183.9,418.7 184.0,421.5 184.1,420.9 184.2,419.5 184.3,424.0 184.4,417.0 184.5,423.5 184.6,419.0 184.7,418.3 184.8,420.7 184.9,427.9 185.0,421.8 185.1,429.6 185.2,422.4 185.3,421.0 185.4,420.7 185.5,424.4 185.6,421.0 185.7,421.0 185.8,418.5 185.9,418.6 186.0,421.1 186.1,418.9 186.2,418.5 186.3,418.6 186.4,420.8 186.5,421.8 186.6,426.8 186.7,422.4 186.8,419.8 186.9,421.6 187.0,422.2 187.1,418.8 187.2,418.7 187.3,417.3 187.4,422.8 187.5,420.1 187.6,421.3 187.7,419.8 187.8,419.0 187.9,423.2 188.0,421.5 188.1,426.0 188.2,425.6 188.3,419.1 188.4,422.8 188.5,428.4 188.6,420.1 188.7,419.5 188.8,423.4 188.9,418.4 189.0,423.9 189.1,421.2 189.2,420.7 189.3,427.5 189.4,421.4 189.5,423.2 189.6,417.6 189.7,421.8 189.8,420.1 189.9,422.8 190.0,427.8 190.1,418.3 190.2,417.2 190.3,418.4 190.4,422.4 190.5,419.3 190.6,422.5 190.7,418.0 190.8,418.4 190.9,422.1 191.0,419.3 191.1,420.2 191.2,416.2 191.3,420.7 191.4,416.7 191.5,415.9 191.6,421.1 191.7,442.6 191.8,416.6 191.9,415.0 192.0,418.7 192.1,413.5 192.2,414.7 192.3,414.9 192.4,417.6 192.5,416.7 192.6,416.4 192.7,419.2 192.8,416.3 192.9,415.8 193.0,413.6 193.1,412.7 193.2,413.4 193.3,414.2 193.4,413.6 193.5,411.4 193.6,407.8 193.7,410.2 193.8,407.6 193.9,410.4 194.0,408.8 194.1,411.4 194.2,410.6 194.3,412.6 194.4,410.8 194.5,410.8 194.6,410.6 194.7,411.1 194.8,409.8 194.9,409.7 195.0,409.2 195.1,409.1 195.2,406.1 195.3,404.8 195.4,404.4 195.5,403.0 195.6,403.2 195.7,405.4 195.8,405.5 195.9,405.7 196.0,407.6 196.1,408.8 196.2,410.0 196.3,409.6 196.4,411.0 196.5,411.1 196.6,409.7 196.7,411.2 196.8,407.5 196.9,407.0 197.0,406.1 197.1,405.4 197.3,403.0 197.4,402.3 197.5,402.9 197.6,404.0 197.7,403.7 197.8,405.9 197.9,407.9 198.0,408.3 198.1,409.8 198.2,410.8 198.3,413.9 198.4,411.4 198.5,410.3 198.6,410.2 198.7,407.8 198.8,409.3 198.9,406.6 199.0,404.8 199.1,403.5 199.2,403.0 199.3,402.5 199.4,403.5 199.5,407.8 199.6,407.3 199.7,406.5 199.8,409.4 199.9,411.3 200.0,411.3 200.1,411.2 200.2,410.5 200.3,411.6 200.4,408.3 200.5,410.5 200.6,407.0 200.7,407.6 200.8,405.8 200.9,407.1 201.0,402.5 201.1,404.8 201.2,403.7 201.3,406.6 201.4,409.1 201.5,407.7 201.6,407.7 201.7,410.5 201.8,412.2 201.9,411.1 202.0,410.8 202.1,410.6 202.2,409.4 202.3,412.0 202.4,407.7 202.5,405.4 202.6,406.5 202.7,403.3 202.8,402.7 202.9,404.6 203.0,404.8 203.1,405.0 203.2,407.5 203.3,406.8 203.4,408.3 203.5,411.7 203.6,409.8 203.7,413.4 203.8,411.5 203.9,410.9 204.0,409.6 204.1,408.8 204.2,406.8 204.3,406.1 204.4,405.2 204.5,405.0 204.6,404.1 204.7,402.6 204.8,404.2 204.9,408.9 205.0,408.9 205.1,407.8 205.2,408.3 205.3,410.1 205.4,411.1 205.5,411.5 205.6,411.8 205.7,410.2 205.8,410.6 205.9,410.6 206.0,406.3 206.1,408.5 206.2,405.6 206.3,403.7 206.4,403.8 206.5,402.9 206.6,406.4 206.7,406.6 206.8,406.6 206.9,409.0 207.0,410.2 207.1,408.9 207.2,411.1 207.3,412.4 207.4,412.2 207.5,413.1 207.6,411.8 207.7,407.4 207.8,406.1 207.9,405.6 208.0,404.4 208.1,403.9 208.2,402.8 208.3,403.3 208.4,403.8 208.5,404.5 208.6,406.1 208.7,406.4 208.8,408.1 208.9,412.0 209.0,410.7 209.1,410.5 209.2,412.7 209.3,411.4 209.4,409.6 209.5,407.9 209.6,410.2 209.7,407.1 209.8,404.9 209.9,404.7 210.0,403.9 210.1,403.5 210.2,403.5 210.3,405.7 210.4,405.2 210.5,406.8 210.6,409.7 210.7,412.2 210.8,410.5 211.0,411.6 211.1,411.3 211.2,411.1 211.3,408.8 211.4,408.4 211.5,407.0 211.6,406.2 211.7,406.8 211.8,404.0 211.9,403.7 212.0,403.1 212.1,402.4 212.2,406.1 212.3,405.9 212.4,407.5 212.5,408.1 212.6,410.4 212.7,410.7 212.8,410.1 212.9,410.7 213.0,410.3 213.1,409.5 213.2,409.8 213.3,408.1 213.4,406.8 213.5,405.6 213.6,404.1 213.7,402.6 213.8,401.4 213.9,400.6 214.0,400.0 214.1,399.9 214.2,400.2 214.3,400.9 214.4,401.9 214.5,403.2 214.6,404.7 214.7,406.1 214.8,407.4 214.9,408.4 215.0,409.0 215.1,409.3 215.2,409.1 215.3,408.4 215.4,407.4 215.5,405.8 215.6,403.7 215.7,401.3 215.8,398.9 215.9,396.8 216.0,395.1 216.1,394.1 216.2,393.9 216.3,394.3 216.4,395.2 216.5,396.4 216.6,397.4 216.7,397.6 216.8,396.5 216.9,394.1 217.0,390.7 217.1,386.9 217.2,382.7 217.3,378.5 217.4,374.1 217.5,369.8 217.6,365.4 217.7,361.0 217.8,356.6 217.9,361.0 218.0,365.4 218.1,369.8 218.2,374.1 218.3,378.5 218.4,382.7 218.5,386.9 218.6,390.7 218.7,394.1 218.8,396.5 218.9,397.6 219.0,397.4 219.1,396.4 219.2,395.2 219.3,394.3 219.4,393.9 219.5,394.1 219.6,395.1 219.7,396.8 219.8,398.9 219.9,401.3 220.0,403.7 220.1,405.8 220.2,407.4 220.3,408.4 220.4,409.1 220.5,409.3 220.6,409.0 220.7,408.4 220.8,407.4 220.9,406.1 221.0,404.7 221.1,403.2 221.2,401.9 221.3,400.9 221.4,400.2 221.5,399.9 221.6,400.0 221.7,400.6 221.8,401.4 221.9,402.6 222.0,404.1 222.1,405.6 222.2,406.8 222.3,408.1 222.4,409.8 222.5,409.5 222.6,410.3 222.7,410.7 222.8,410.1 222.9,410.7 223.0,410.4 223.1,408.1 223.2,407.5 223.3,405.9 223.4,406.1 223.5,402.4 223.6,403.1 223.7,403.7 223.8,404.0 223.9,406.8 224.0,406.2 224.1,407.0 224.2,408.4 224.3,408.8 224.4,411.1 224.5,411.3 224.6,411.6 224.8,410.5 224.9,412.2 225.0,409.7 225.1,406.8 225.2,405.2 225.3,405.7 225.4,403.5 225.5,403.5 225.6,403.9 225.7,404.7 225.8,404.9 225.9,407.1 226.0,410.2 226.1,407.9 226.2,409.6 226.3,411.4 226.4,412.7 226.5,410.5 226.6,410.7 226.7,412.0 226.8,408.1 226.9,406.4 227.0,406.1 227.1,404.5 227.2,403.8 227.3,403.3 227.4,402.8 227.5,403.9 227.6,404.4 227.7,405.6 227.8,406.1 227.9,407.4 228.0,411.8 228.1,413.1 228.2,412.2 228.3,412.4 228.4,411.1 228.5,408.9 228.6,410.2 228.7,409.0 228.8,406.6 228.9,406.6 229.0,406.4 229.1,402.9 229.2,403.8 229.3,403.7 229.4,405.6 229.5,408.5 229.6,406.3 229.7,410.6 229.8,410.6 229.9,410.2 230.0,411.8 230.1,411.5 230.2,411.1 230.3,410.1 230.4,408.3 230.5,407.8 230.6,408.9 230.7,408.9 230.8,404.2 230.9,402.6 231.0,404.1 231.1,405.0 231.2,405.2 231.3,406.1 231.4,406.8 231.5,408.8 231.6,409.6 231.7,410.9 231.8,411.5 231.9,413.4 232.0,409.8 232.1,411.7 232.2,408.3 232.3,406.8 232.4,407.5 232.5,405.0 232.6,404.8 232.7,404.6 232.8,402.7 232.9,403.3 233.0,406.5 233.1,405.4 233.2,407.7 233.3,412.0 233.4,409.4 233.5,410.6 233.6,410.8 233.7,411.1 233.8,412.2 233.9,410.5 234.0,407.7 234.1,407.7 234.2,409.1 234.3,406.6 234.4,403.7 234.5,404.8 234.6,402.5 234.7,407.1 234.8,405.8 234.9,407.6 235.0,407.0 235.1,410.5 235.2,408.3 235.3,411.6 235.4,410.5 235.5,411.2 235.6,411.3 235.7,411.3 235.8,409.4 235.9,406.5 236.0,407.3 236.1,407.8 236.2,403.5 236.3,402.5 236.4,403.0 236.5,403.5 236.6,404.8 236.7,406.6 236.8,409.3 236.9,407.8 237.0,410.2 237.1,410.3 237.2,411.4 237.3,413.9 237.4,410.8 237.5,409.8 237.6,408.3 237.7,407.9 237.8,405.9 237.9,403.7 238.0,404.0 238.1,402.9 238.2,402.3 238.3,403.0 238.5,405.4 238.6,406.1 238.7,407.0 238.8,407.5 238.9,411.2 239.0,409.7 239.1,411.1 239.2,411.0 239.3,409.6 239.4,410.0 239.5,408.8 239.6,407.6 239.7,405.7 239.8,405.5 239.9,405.4 240.0,403.2 240.1,403.0 240.2,404.4 240.3,404.8 240.4,406.1 240.5,409.1 240.6,409.2 240.7,409.7 240.8,409.8 240.9,411.1 241.0,410.6 241.1,410.8 241.2,410.8 241.3,412.6 241.4,410.6 241.5,411.4 241.6,408.8 241.7,410.4 241.8,407.6 241.9,410.2 242.0,407.8 242.1,411.4 242.2,413.6 242.3,414.2 242.4,413.4 242.5,412.7 242.6,413.6 242.7,415.8 242.8,416.3 242.9,419.2 243.0,416.4 243.1,416.7 243.2,417.6 243.3,414.9 243.4,414.7 243.5,413.5 243.6,418.7 243.7,442.6 243.8,416.6 243.9,414.1 244.0,421.1 244.1,415.9 244.2,416.7 244.3,420.7 244.4,416.2 244.5,420.2 244.6,419.3 244.7,422.1 244.8,418.4 244.9,418.0 245.0,422.5 245.1,419.3 245.2,422.4 245.3,418.4 245.4,417.2 245.5,418.3 245.6,427.8 245.7,422.8 245.8,420.1 245.9,421.8 246.0,417.6 246.1,423.2 246.2,421.4 246.3,427.5 246.4,420.7 246.5,421.2 246.6,423.9 246.7,418.4 246.8,423.4 246.9,419.5 247.0,420.1 247.1,428.4 247.2,422.8 247.3,419.1 247.4,425.6 247.5,426.0 247.6,421.5 247.7,423.2 247.8,419.0 247.9,419.8 248.0,421.3 248.1,420.1 248.2,422.8 248.3,417.3 248.4,418.7 248.5,418.8 248.6,422.2 248.7,421.6 248.8,419.8 248.9,422.4 249.0,426.8 249.1,421.8 249.2,420.8 249.3,418.6 249.4,418.5 249.5,418.9 249.6,421.1 249.7,418.6 249.8,418.5 249.9,421.0 250.0,421.0 250.1,424.4 250.2,420.7 250.3,421.0 250.4,422.4 250.5,429.6 250.6,421.8 250.7,427.9 250.8,420.7 250.9,418.3 251.0,419.0 251.1,423.5 251.2,417.0 251.3,424.0 251.4,419.5 251.5,420.9 251.6,421.5 251.7,418.7 251.8,423.0 251.9,421.9 252.0,431.5 252.2,421.5 252.3,418.3 252.4,419.4 252.5,417.3 252.6,424.8 252.7,420.3 252.8,419.2 252.9,418.3 253.0,421.4 253.1,419.7 253.2,420.6 253.3,417.3 253.4,425.0 253.5,418.3 253.6,423.4 253.7,425.3 253.8,421.4 253.9,423.3 254.0,417.1 254.1,424.7 254.2,420.9 254.3,430.8 254.4,422.5 254.5,425.3 254.6,418.5 254.7,418.7 254.8,416.4 254.9,427.4 255.0,416.3 255.1,417.0 255.2,422.7 255.3,417.7 255.4,424.8 255.5,421.7 255.6,421.7 255.7,419.0 255.8,422.2 255.9,428.2 256.0,423.6 256.1,417.5 256.2,420.4 256.3,422.2 256.4,423.5 256.5,421.3 256.6,424.4 256.7,418.6 256.8,417.7 256.9,420.1 257.0,423.9 257.1,419.5 257.2,417.7 257.3,419.9 257.4,419.4 257.5,420.2 257.6,416.6 257.7,420.4 257.8,429.4 257.9,420.6 258.0,421.7 258.1,426.4 258.2,423.2 258.3,425.8 258.4,418.8 258.5,419.0 258.6,418.5 258.7,430.5 258.8,418.0 258.9,428.8 259.0,423.6 259.1,417.4 259.2,420.9 259.3,420.6 259.4,422.4 259.5,418.4 259.6,420.1 259.7,418.7 259.8,428.5 259.9,420.5 260.0,417.8 260.1,421.1 260.2,420.8 260.3,420.5 260.4,422.4 260.5,417.3 260.6,417.8 260.7,422.2 260.8,423.5 260.9,422.5 261.0,420.7 261.1,422.1 261.2,425.5 261.3,422.9 261.4,419.2 261.5,417.2 261.6,419.2 261.7,424.7 261.8,426.5 261.9,426.1 262.0,422.9 262.1,426.4 262.2,419.8 262.3,418.2 262.4,418.6 262.5,427.3 262.6,425.9 262.7,417.9 262.8,419.1 262.9,431.2 263.0,430.5 263.1,418.7 263.2,420.2 263.3,422.3 263.4,423.0 263.5,421.7 263.6,419.2 263.7,425.0 263.8,423.7 263.9,425.2 264.0,417.6 264.1,420.1 264.2,417.2 264.3,421.3 264.4,416.2 264.5,434.8 264.6,422.2 264.7,425.3 264.8,426.2 264.9,420.9 265.0,420.0 265.1,423.0 265.2,424.5 265.3,424.2 265.4,421.5 265.5,420.8 265.6,419.9 265.7,427.3 265.9,430.3 266.0,430.8 266.1,425.1 266.2,439.5 266.3,427.7 266.4,427.4 266.5,426.5 266.6,429.9 266.7,431.4 266.8,425.0 266.9,429.4 267.0,428.6 267.1,429.6 267.2,426.2 267.3,457.0 267.4,430.7 267.5,428.3 267.6,436.9 267.7,430.9 267.8,432.7 267.9,426.2 268.0,456.5 268.1,433.1 268.2,438.1 268.3,432.6 268.4,429.6 268.5,435.1 268.6,431.1 268.7,437.0 268.8,436.0 268.9,444.2 269.0,441.0 269.1,442.4 269.2,437.5 269.3,464.8 269.4,459.8 269.5,433.6 269.6,433.3 269.7,432.5 269.8,458.5 269.9,441.4 270.0,433.5 270.1,433.8 270.2,466.4 270.3,436.4 270.4,426.9 270.5,441.1 270.6,429.1 270.7,442.7 270.8,451.3 270.9,447.2 271.0,463.3 271.1,437.9 271.2,433.5 271.3,459.4 271.4,436.7 271.5,435.5 271.6,428.6 271.7,435.6 271.8,437.1 271.9,440.5 272.0,430.4 272.1,444.4 272.2,427.8 272.3,440.4 272.4,431.5 272.5,451.8 272.6,444.3 272.7,440.9 272.8,428.9 272.9,435.6 273.0,429.1 273.1,440.5 273.2,435.0 273.3,428.1 273.4,434.2 273.5,440.3 273.6,438.2 273.7,440.7 273.8,435.1 273.9,456.8 274.0,433.0 274.1,434.5 274.2,429.9 274.3,444.7 274.4,429.4 274.5,432.1 274.6,442.1 274.7,437.4 274.8,435.9 274.9,439.0 275.0,430.8 275.1,438.9 275.2,437.2 275.3,465.2 275.4,441.5 275.5,430.6 275.6,430.1 275.7,443.3 275.8,436.3 275.9,441.9 276.0,443.3 276.1,429.3 276.2,439.0 276.3,430.0 276.4,437.5 276.5,443.5 276.6,441.9 276.7,436.7 276.8,436.9 276.9,446.1 277.0,444.3 277.1,442.6 277.2,434.4 277.3,461.1 277.4,438.7 277.5,433.9 277.6,434.1 277.7,433.3 277.8,429.5 277.9,431.5 278.0,441.4 278.1,439.7 278.2,435.2 278.3,431.2 278.4,437.9 278.5,440.8 278.6,438.0 278.7,449.0 278.8,433.4 278.9,434.2 279.0,432.6 279.1,440.1 279.2,433.6 279.3,437.3 279.4,437.8 279.5,440.8 279.7,443.2 279.8,435.3 279.9,429.9 280.0,449.1 280.1,436.2 280.2,432.7 280.3,433.0 280.4,436.2 280.5,437.7 280.6,441.4 280.7,429.9 280.8,443.1 280.9,432.5 281.0,433.1 281.1,447.2 281.2,428.2 281.3,433.4 281.4,433.0 281.5,438.2 281.6,434.9 281.7,447.6 281.8,438.3 281.9,435.6 282.0,442.9 282.1,437.9 282.2,443.0 282.3,431.7 282.4,435.3 282.5,437.7 282.6,439.7 282.7,431.8 282.8,435.6 282.9,434.2 283.0,430.9 283.1,430.3 283.2,437.3 283.3,433.4 283.4,427.4 283.5,435.1 283.6,439.0 283.7,442.6 283.8,431.4 283.9,442.4 284.0,434.3 284.1,436.6 284.2,457.1 284.3,433.4 284.4,435.6 284.5,442.9 284.6,437.7 284.7,430.5 284.8,431.6 284.9,466.9 285.0,429.0 285.1,432.6 285.2,439.4 285.3,442.6 285.4,437.6 285.5,443.8 285.6,430.9 285.7,430.7 285.8,433.8 285.9,438.2 286.0,433.6 286.1,433.7 286.2,428.6 286.3,444.3 286.4,432.5 286.5,435.9 286.6,434.8 286.7,433.4 286.8,433.5 286.9,443.4 287.0,451.4 287.1,449.1 287.2,436.5 287.3,435.0 287.4,437.8 287.5,438.9 287.6,443.7 287.7,439.5 287.8,434.3 287.9,428.3 288.0,432.2 288.1,436.2 288.2,438.4 288.3,432.4 288.4,436.9 288.5,448.3 288.6,434.0 288.7,446.9 288.8,436.3 288.9,438.3 289.0,442.0 289.1,432.9 289.2,450.1 289.3,442.1 289.4,453.1 289.5,434.1 289.6,441.2 289.7,436.8 289.8,438.0 289.9,429.6 290.0,448.4 290.1,436.4 290.2,438.7 290.3,432.8 290.4,462.7 290.5,434.8 290.6,435.0 290.7,434.5 290.8,446.6 290.9,449.9 291.0,436.1 291.1,443.1 291.2,435.4 291.3,432.5 291.4,438.3 291.5,470.5 291.6,445.3 291.7,440.5 291.8,432.2 291.9,439.0 292.0,438.3 292.1,439.6 292.2,434.0 292.3,435.4 292.4,435.2 292.5,460.8 292.6,444.2 292.7,446.1 292.8,442.0 292.9,435.4 293.0,433.5 293.1,442.8 293.2,427.3 293.4,435.1 293.5,444.5 293.6,433.7 293.7,432.2 293.8,440.5 293.9,447.6 294.0,435.3 294.1,434.6 294.2,437.6 294.3,436.8 294.4,443.1 294.5,453.2 294.6,435.4 294.7,442.9 294.8,432.3 294.9,436.2 295.0,462.9 295.1,454.0 295.2,438.9 295.3,431.6 295.4,445.1 295.5,439.8 295.6,450.6 295.7,431.0 295.8,427.6 295.9,436.8 296.0,438.6 296.1,467.1 296.2,430.6 296.3,429.5 296.4,435.0 296.5,445.2 296.6,451.2 296.7,459.3 296.8,434.9 296.9,431.9 297.0,430.6 297.1,441.5 297.2,454.4 297.3,433.2 297.4,430.9 297.5,463.8 297.6,436.1 297.7,440.9 297.8,430.2 297.9,440.6 298.0,450.7 298.1,431.6 298.2,443.0 298.3,440.3 298.4,434.4 298.5,442.4 298.6,431.4 298.7,436.6 298.8,433.6 298.9,436.8 299.0,442.8 299.1,433.1 299.2,441.2 299.3,432.7 299.4,431.4 299.5,440.4 299.6,429.9 299.7,435.9 299.8,438.1 299.9,440.8 300.0,434.8 300.1,441.3 300.2,443.1 300.3,440.3 300.4,434.8 300.5,451.4 300.6,432.8 300.7,429.9 300.8,437.8 300.9,433.1 301.0,439.7 301.1,432.6 301.2,439.4 301.3,432.2 301.4,437.6 301.5,462.0 301.6,439.0 301.7,464.0 301.8,444.7 301.9,448.9 302.0,451.5 302.1,436.7 302.2,447.4 302.3,435.3 302.4,440.1 302.5,431.6 302.6,447.9 302.7,440.2 302.8,435.0 302.9,433.0 303.0,458.2 303.1,429.1 303.2,442.6 303.3,434.2 303.4,436.5 303.5,433.3 303.6,436.9 303.7,436.9 303.8,442.5 303.9,447.0 304.0,431.0 304.1,433.5 304.2,437.8 304.3,443.4 304.4,438.0 304.5,435.5 304.6,438.7 304.7,437.0 304.8,438.0 304.9,434.0 305.0,430.3 305.1,448.0 305.2,443.0 305.3,443.0 305.4,442.4 305.5,433.8 305.6,443.6 305.7,459.9 305.8,436.5 305.9,435.2 306.0,432.2 306.1,435.2 306.2,437.9 306.3,442.2 306.4,444.7 306.5,445.7 306.6,447.3 306.7,437.1 306.8,431.5 306.9,436.3 307.1,463.4 307.2,432.7 307.3,437.4 307.4,442.5 307.5,433.5 307.6,447.9 307.7,438.1 307.8,445.3 307.9,438.3 308.0,453.6 308.1,458.3 308.2,439.4 308.3,443.3 308.4,437.5 308.5,441.8 308.6,436.9 308.7,454.0 308.8,432.5 308.9,451.6 309.0,435.9 309.1,458.0 309.2,427.9 309.3,440.3 309.4,435.3 309.5,444.1 309.6,438.7 309.7,444.9 309.8,431.9 309.9,440.2 310.0,440.6 310.1,435.8 310.2,446.3 310.3,433.1 310.4,441.1 310.5,445.3 310.6,459.7 310.7,434.9 310.8,443.5 310.9,452.2 311.0,439.1 311.1,440.9 311.2,439.9 311.3,443.1 311.4,436.6 311.5,455.8 311.6,448.7 311.7,435.4 311.8,431.0 311.9,441.8 312.0,447.4 312.1,430.6 312.2,456.0 312.3,452.0 312.4,432.5 312.5,436.6 312.6,437.8 312.7,440.1 312.8,439.6 312.9,433.7 313.0,467.9 313.1,440.8 313.2,444.3 313.3,433.9 313.4,436.8 313.5,448.2 313.6,476.4 313.7,444.0 313.8,434.1 313.9,442.8 314.0,439.3 314.1,439.5 314.2,442.2 314.3,442.2 314.4,437.2 314.5,438.5 314.6,433.0 314.7,435.5 314.8,453.0 314.9,452.2 315.0,436.6 315.1,431.4 315.2,441.4 315.3,443.9 315.4,438.9 315.5,430.3 315.6,441.1 315.7,444.4 315.8,447.9 315.9,442.8 316.0,432.0 316.1,440.8 316.2,461.7 316.3,435.5 316.4,456.9 316.5,438.4 316.6,439.2 316.7,437.9 316.8,435.1 316.9,472.1 317.0,447.8 317.1,440.4 317.2,438.5 317.3,443.4 317.4,436.9 317.5,446.1 317.6,442.1 317.7,441.5 317.8,445.6 317.9,438.2 318.0,443.6 318.1,441.8 318.2,461.7 318.3,439.6 318.4,440.8 318.5,437.1 318.6,463.9 318.7,448.8 318.8,436.0 318.9,442.0 319.0,447.5 319.1,439.4 319.2,449.9 319.3,446.5 319.4,441.3 319.5,443.6 319.6,466.2 319.7,436.5 319.8,460.9 319.9,450.2 320.0,443.2 320.1,437.6 320.2,443.0 320.3,438.2 320.4,482.8 320.5,445.2 320.6,436.0 320.8,443.9 320.9,463.9 321.0,457.3 321.1,458.4 321.2,435.9 321.3,454.0 321.4,459.1 321.5,440.7 321.6,438.5 321.7,443.2 321.8,438.4 321.9,443.1 322.0,435.9 322.1,447.3 322.2,433.0 322.3,458.4 322.4,463.8 322.5,448.8 322.6,438.5 322.7,464.7 322.8,436.1 322.9,459.1 323.0,465.2 323.1,448.1 323.2,440.0 323.3,444.2 323.4,475.3 323.5,446.6 323.6,450.8 323.7,435.7 323.8,438.9 323.9,453.6 324.0,497.4 324.1,461.3 324.2,439.4 324.3,459.6 324.4,439.3 324.5,465.7 324.6,445.4 324.7,443.0 324.8,457.3 324.9,442.1 325.0,497.4 325.1,435.0 325.2,451.6 325.3,445.8 325.4,443.4 325.5,435.4 325.6,471.7 325.7,444.6 325.8,448.6 325.9,457.6 326.0,448.1 326.1,447.1 326.2,439.1 326.3,439.2 326.4,452.5 326.5,431.7 326.6,462.8 326.7,446.7 326.8,487.1 326.9,447.1 327.0,445.7 327.1,444.6 327.2,488.2 327.3,472.1 327.4,434.9 327.5,446.2 327.6,450.4 327.7,439.2 327.8,462.6 327.9,441.1 328.0,460.2 328.1,460.6 328.2,446.5 328.3,428.1 328.4,436.8 328.5,434.5 328.6,448.4 328.7,466.0 328.8,454.8 328.9,450.0 329.0,444.3 329.1,464.0 329.2,479.2 329.3,453.1 329.4,451.3 329.5,439.4 329.6,473.0 329.7,446.7 329.8,439.1 329.9,431.8 330.0,463.1 330.1,457.2 330.2,441.3 330.3,444.1 330.4,450.7 330.5,470.0 330.6,455.5 330.7,467.8 330.8,451.0 330.9,445.2 331.0,450.5 331.1,434.7 331.2,441.2 331.3,453.5 331.4,438.6 331.5,442.6 331.6,465.9 331.7,438.3 331.8,455.9 331.9,439.1 332.0,442.7 332.1,446.7 332.2,446.6 332.3,438.2 332.4,449.9 332.5,439.4 332.6,435.8 332.7,455.8 332.8,442.5 332.9,440.5 333.0,451.4 333.1,444.0 333.2,437.6 333.3,438.8 333.4,440.6 333.5,455.6 333.6,437.5 333.7,450.9 333.8,445.9 333.9,451.2 334.0,467.5 334.1,440.7 334.2,456.4 334.3,445.2 334.4,439.3 334.6,437.2 334.7,456.2 334.8,451.0 334.9,454.5 335.0,463.2 335.1,442.0 335.2,464.4 335.3,451.5 335.4,433.5 335.5,437.0 335.6,459.2 335.7,451.5 335.8,453.8 335.9,474.9 336.0,436.4 336.1,497.4 336.2,444.9 336.3,454.8 336.4,472.2 336.5,435.0 336.6,440.5 336.7,450.7 336.8,432.0 336.9,449.7 337.0,441.9 337.1,457.6 337.2,435.7 337.3,439.1 337.4,442.7 337.5,452.9 337.6,430.5 337.7,450.3 337.8,444.2 337.9,450.2 338.0,446.4 338.1,446.2 338.2,441.1 338.3,462.2 338.4,497.4 338.5,445.5 338.6,470.2 338.7,437.8 338.8,437.7 338.9,445.7 339.0,440.2 339.1,443.9 339.2,442.4 339.3,492.1 339.4,459.6 339.5,458.6 339.6,448.6 339.7,482.2 339.8,446.5 339.9,497.4 340.0,440.3 340.1,434.8 340.2,466.2 340.3,439.9 340.4,469.9 340.5,439.0 340.6,434.2 340.7,443.3 340.8,454.7 340.9,436.8 341.0,448.4 341.1,449.8 341.2,443.2 341.3,444.0 341.4,446.5 341.5,441.4 341.6,440.6 341.7,445.7 341.8,459.0 341.9,463.6 342.0,447.8 342.1,449.7 342.2,435.6 342.3,452.3 342.4,450.0 342.5,429.0 342.6,463.8 342.7,442.6 342.8,453.5 342.9,436.8 343.0,497.4 343.1,475.6 343.2,441.5 343.3,436.5 343.4,430.3 343.5,456.2 343.6,447.9 343.7,442.9 343.8,436.4 343.9,452.6 344.0,458.6 344.1,462.9 344.2,474.3 344.3,449.4 344.4,460.1 344.5,443.2 344.6,448.1 344.7,443.8 344.8,435.1 344.9,455.9 345.0,460.0 345.1,429.4 345.2,504.7 345.3,442.1 345.4,450.8 345.5,438.8 345.6,445.1 345.7,443.2 345.8,473.6 345.9,462.2 346.0,458.6 346.1,449.4 346.2,441.5 346.3,442.8 346.4,434.2 346.5,439.5 346.6,447.2 346.7,456.6 346.8,432.5 346.9,437.6 347.0,481.0 347.1,485.3 347.2,444.1 347.3,442.9 347.4,439.9 347.5,461.0 347.6,448.7 347.7,437.9 347.8,467.6 347.9,460.3 348.0,435.0 348.1,441.7 348.3,454.8 348.4,460.7 348.5,450.7 348.6,443.9 348.7,435.5 348.8,443.2 348.9,462.0 349.0,440.2 349.1,447.2 349.2,446.0 349.3,455.8 349.4,456.2 349.5,474.9 349.6,441.9 349.7,438.8 349.8,453.1 349.9,441.3 350.0,464.8 350.1,441.3 350.2,445.5 350.3,443.1 350.4,469.1 350.5,445.6 350.6,502.7 350.7,429.3 350.8,444.7 350.9,451.8 351.0,465.3 351.1,453.9 351.2,436.6 351.3,454.3 351.4,443.6 351.5,450.4 351.6,446.7 351.7,446.0 351.8,449.8 351.9,446.7 352.0,437.0 352.1,448.7 352.2,449.3 352.3,460.2 352.4,452.7 352.5,457.0 352.6,451.1 352.7,472.2 352.8,449.7 352.9,442.1 353.0,471.7 353.1,454.3 353.2,441.3 353.3,446.3 353.4,444.8 353.5,469.5 353.6,445.3 353.7,446.1 353.8,446.5 353.9,442.1 354.0,448.3 354.1,465.4 354.2,436.6 354.3,451.4 354.4,442.9 354.5,461.1 354.6,445.7 354.7,466.0 354.8,463.9 354.9,459.2 355.0,452.2 355.1,457.4 355.2,449.5 355.3,470.9 355.4,478.3 355.5,450.4 355.6,440.3 355.7,445.5 355.8,448.0 355.9,438.6 356.0,456.4 356.1,440.0 356.2,455.5 356.3,463.1 356.4,467.7 356.5,459.2 356.6,446.4 356.7,497.4 356.8,451.2 356.9,452.3 357.0,446.3 357.1,452.6 357.2,467.2 357.3,438.6 357.4,449.9 357.5,451.8 357.6,447.8 357.7,447.5 357.8,445.0 357.9,459.1 358.0,455.5 358.1,451.9 358.2,435.9 358.3,448.0 358.4,471.2 358.5,446.4 358.6,432.9 358.7,473.9 358.8,433.1 358.9,449.3 359.0,437.9 359.1,444.8 359.2,454.9 359.3,452.0 359.4,453.6 359.5,468.0 359.6,443.5 359.7,442.3 359.8,436.4 359.9,485.6 360.0,458.4 360.1,461.1 360.2,449.5 360.3,441.4 360.4,454.1 360.5,450.0 360.6,447.1 360.7,438.5 360.8,443.1 360.9,470.7 361.0,459.8 361.1,455.0 361.2,448.0 361.3,447.8 361.4,455.9 361.5,453.1 361.6,471.2 361.7,439.0 361.8,453.3 362.0,448.4 362.1,447.4 362.2,444.9 362.3,446.8 362.4,449.6 362.5,445.8 362.6,475.2 362.7,437.2 362.8,469.9 362.9,447.9 363.0,454.7 363.1,438.1 363.2,465.7 363.3,454.9 363.4,466.8 363.5,462.0 363.6,447.9 363.7,440.3 363.8,442.7 363.9,444.4 364.0,454.2 364.1,471.3 364.2,447.7 364.3,444.7 364.4,443.1 364.5,451.4 364.6,444.4 364.7,455.0 364.8,458.6 364.9,485.4 365.0,480.5 365.1,445.4 365.2,449.2 365.3,486.9 365.4,449.8 365.5,492.6 365.6,439.2 365.7,455.4 365.8,435.3 365.9,444.3 366.0,447.1 366.1,451.5 366.2,443.2 366.3,436.1 366.4,461.2 366.5,458.8 366.6,450.5 366.7,446.2 366.8,445.0 366.9,454.4 367.0,443.1 367.1,445.6 367.2,454.3 367.3,448.4 367.4,451.7 367.5,452.3 367.6,438.9 367.7,437.2 367.8,451.5 367.9,445.3 368.0,448.5 368.1,448.0 368.2,437.5 368.3,444.6 368.4,455.1 368.5,450.7 368.6,442.3 368.7,450.7 368.8,444.6 368.9,440.3 369.0,451.8 369.1,446.7 369.2,447.7 369.3,446.5 369.4,463.4 369.5,449.7 369.6,444.6 369.7,458.0 369.8,458.9 369.9,444.4 370.0,451.7 370.1,436.8 370.2,460.8 370.3,459.0 370.4,443.7 370.5,470.1 370.6,436.6 370.7,445.5 370.8,444.2 370.9,448.6 371.0,446.2 371.1,453.3 371.2,437.6 371.3,449.8 371.4,437.3 371.5,442.0 371.6,458.9 371.7,447.0 371.8,443.3 371.9,457.5 372.0,445.7 372.1,450.4 372.2,436.5 372.3,450.3 372.4,459.1 372.5,446.2" fill="none" stroke="#1f77b4" stroke-width="0.62" stroke-linejoin="round"/>
<polyline points="173.1,427.3 173.2,418.6 173.3,418.2 173.4,419.8 173.5,426.4 173.6,422.9 173.7,426.1 173.8,426.5 173.9,424.7 174.0,419.2 174.1,417.2 174.2,419.2 174.3,422.9 174.4,425.5 174.5,422.1 174.6,420.7 174.7,422.5 174.8,423.5 174.9,422.2 175.0,417.8 175.1,417.3 175.2,422.4 175.3,420.5 175.4,420.8 175.5,421.1 175.6,417.8 175.7,420.5 175.8,428.5 175.9,418.7 176.0,420.1 176.1,418.4 176.2,422.4 176.3,420.6 176.4,420.9 176.5,417.4 176.6,423.6 176.7,428.8 176.8,418.0 176.9,430.5 177.0,418.5 177.1,419.0 177.2,418.8 177.3,425.8 177.4,423.2 177.5,426.4 177.6,421.7 177.7,420.6 177.8,429.4 177.9,420.4 178.0,416.6 178.1,420.2 178.2,419.4 178.3,419.9 178.4,417.7 178.5,419.5 178.6,423.9 178.7,420.1 178.8,417.7 178.9,418.6 179.0,424.4 179.1,421.3 179.2,423.5 179.3,422.2 179.4,420.4 179.5,417.5 179.6,423.6 179.7,428.2 179.8,422.2 179.9,419.0 180.0,421.7 180.1,421.7 180.2,424.8 180.3,417.7 180.4,422.7 180.5,417.0 180.6,416.3 180.7,427.4 180.8,416.4 180.9,418.7 181.0,418.5 181.1,425.3 181.2,422.5 181.3,430.8 181.4,420.9 181.5,424.7 181.6,417.1 181.7,423.3 181.8,421.4 181.9,425.3 182.0,423.4 182.1,418.3 182.2,425.0 182.3,417.3 182.4,420.6 182.5,419.7 182.6,421.4 182.7,418.3 182.8,419.2 182.9,420.3 183.0,424.8 183.1,417.3 183.2,419.4 183.3,418.3 183.4,421.5 183.6,431.5 183.7,421.9 183.8,423.0 183.9,418.7 184.0,421.5 184.1,420.9 184.2,419.5 184.3,424.0 184.4,417.0 184.5,423.5 184.6,419.0 184.7,418.3 184.8,420.7 184.9,427.9 185.0,421.8 185.1,429.6 185.2,422.4 185.3,421.0 185.4,420.7 185.5,424.4 185.6,421.0 185.7,421.0 185.8,418.5 185.9,418.6 186.0,421.1 186.1,418.9 186.2,418.5 186.3,418.6 186.4,420.8 186.5,421.8 186.6,426.8 186.7,422.4 186.8,419.8 186.9,421.6 187.0,422.2 187.1,418.8 187.2,418.7 187.3,417.3 187.4,422.8 187.5,420.1 187.6,421.3 187.7,419.8 187.8,419.0 187.9,423.2 188.0,421.5 188.1,426.0 188.2,425.6 188.3,419.1 188.4,422.8 188.5,428.4 188.6,420.1 188.7,419.5 188.8,423.4 188.9,418.4 189.0,423.9 189.1,421.2 189.2,420.7 189.3,427.5 189.4,421.4 189.5,423.2 189.6,417.6 189.7,421.8 189.8,420.1 189.9,422.8 190.0,427.8 190.1,418.3 190.2,417.2 190.3,418.4 190.4,422.4 190.5,419.3 190.6,422.5 190.7,418.0 190.8,418.4 190.9,422.1 191.0,419.3 191.1,420.2 191.2,416.2 191.3,420.7 191.4,416.7 191.5,415.9 191.6,421.1 191.7,442.6 191.8,416.6 191.9,415.0 192.0,418.7 192.1,413.5 192.2,414.7 192.3,414.9 192.4,417.6 192.5,416.7 192.6,416.4 192.7,419.2 192.8,416.3 192.9,415.8 193.0,413.6 193.1,412.7 193.2,413.4 193.3,414.2 193.4,413.6 193.5,411.4 193.6,407.8 193.7,410.2 193.8,407.6 193.9,410.4 194.0,408.8 194.1,411.4 194.2,410.6 194.3,412.6 194.4,410.8 194.5,410.8 194.6,410.6 194.7,411.1 194.8,409.8 194.9,409.7 195.0,409.2 195.1,409.1 195.2,406.1 195.3,404.8 195.4,404.4 195.5,403.0 195.6,403.2 195.7,405.4 195.8,405.5 195.9,405.7 196.0,407.6 196.1,408.8 196.2,410.0 196.3,409.6 196.4,411.0 196.5,411.1 196.6,409.7 196.7,411.2 196.8,407.5 196.9,407.0 197.0,406.1 197.1,405.4 197.3,403.0 197.4,402.3 197.5,402.9 197.6,404.0 197.7,403.7 197.8,405.9 197.9,407.9 198.0,408.3 198.1,409.8 198.2,410.8 198.3,413.9 198.4,411.4 198.5,410.3 198.6,410.2 198.7,407.8 198.8,409.3 198.9,406.6 199.0,404.8 199.1,403.5 199.2,403.0 199.3,402.5 199.4,403.5 199.5,407.8 199.6,407.3 199.7,406.5 199.8,409.4 199.9,411.3 200.0,411.3 200.1,411.2 200.2,410.5 200.3,411.6 200.4,408.3 200.5,410.5 200.6,407.0 200.7,407.6 200.8,405.8 200.9,407.1 201.0,402.5 201.1,404.8 201.2,403.7 201.3,406.6 201.4,409.1 201.5,407.7 201.6,407.7 201.7,410.5 201.8,412.2 201.9,411.1 202.0,410.8 202.1,410.6 202.2,409.4 202.3,412.0 202.4,407.7 202.5,405.4 202.6,406.5 202.7,403.3 202.8,402.7 202.9,404.6 203.0,404.8 203.1,405.0 203.2,407.5 203.3,406.8 203.4,408.3 203.5,411.7 203.6,409.8 203.7,413.4 203.8,411.5 203.9,410.9 204.0,409.6 204.1,408.8 204.2,406.8 204.3,406.1 204.4,405.2 204.5,405.0 204.6,404.1 204.7,402.6 204.8,404.2 204.9,408.9 205.0,408.9 205.1,407.8 205.2,408.3 205.3,410.1 205.4,411.1 205.5,411.5 205.6,411.8 205.7,410.2 205.8,410.6 205.9,410.6 206.0,406.3 206.1,408.5 206.2,405.6 206.3,403.7 206.4,403.8 206.5,402.9 206.6,406.4 206.7,406.6 206.8,406.6 206.9,409.0 207.0,410.2 207.1,408.9 207.2,411.1 207.3,412.4 207.4,412.2 207.5,413.1 207.6,411.8 207.7,407.4 207.8,406.1 207.9,405.6 208.0,404.4 208.1,403.9 208.2,402.8 208.3,403.3 208.4,403.8 208.5,404.5 208.6,406.1 208.7,406.4 208.8,408.1 208.9,412.0 209.0,410.7 209.1,410.5 209.2,412.7 209.3,411.4 209.4,409.6 209.5,407.9 209.6,410.2 209.7,407.1 209.8,404.9 209.9,404.7 210.0,403.9 210.1,403.5 210.2,403.5 210.3,405.7 210.4,405.2 210.5,406.8 210.6,409.7 210.7,412.2 210.8,410.5 211.0,411.6 211.1,411.3 211.2,411.1 211.3,408.8 211.4,408.4 211.5,407.0 211.6,406.2 211.7,406.8 211.8,404.0 211.9,403.7 212.0,403.1 212.1,402.4 212.2,406.1 212.3,405.9 212.4,407.5 212.5,408.1 212.6,410.4 212.7,410.7 212.8,410.1 212.9,410.7 213.0,410.3 213.1,409.5 213.2,409.8 213.3,408.1 213.4,406.8 213.5,405.6 213.6,404.1 213.7,402.6 213.8,401.4 213.9,400.6 214.0,400.0 214.1,399.9 214.2,400.2 214.3,400.9 214.4,401.9 214.5,403.2 214.6,404.7 214.7,406.1 214.8,407.4 214.9,408.4 215.0,409.0 215.1,409.3 215.2,409.1 215.3,408.4 215.4,407.4 215.5,405.8 215.6,403.7 215.7,401.3 215.8,398.9 215.9,396.8 216.0,395.1 216.1,394.1 216.2,393.9 216.3,394.3 216.4,395.2 216.5,396.4 216.6,397.4 216.7,397.6 216.8,396.5 216.9,394.1 217.0,390.7 217.1,386.9 217.2,382.7 217.3,378.5 217.4,374.1 217.5,369.8 217.6,365.4 217.7,361.0 217.8,356.6 217.9,361.0 218.0,365.4 218.1,369.8 218.2,374.1 218.3,378.5 218.4,382.7 218.5,386.9 218.6,390.7 218.7,394.1 218.8,396.5 218.9,397.6 219.0,397.4 219.1,396.4 219.2,395.2 219.3,394.3 219.4,393.9 219.5,394.1 219.6,395.1 219.7,396.8 219.8,398.9 219.9,401.3 220.0,403.7 220.1,405.8 220.2,407.4 220.3,408.4 220.4,409.1 220.5,409.3 220.6,409.0 220.7,408.4 220.8,407.4 220.9,406.1 221.0,404.7 221.1,403.2 221.2,401.9 221.3,400.9 221.4,400.2 221.5,399.9 221.6,400.0 221.7,400.6 221.8,401.4 221.9,402.6 222.0,404.1 222.1,405.6 222.2,406.8 222.3,408.1 222.4,409.8 222.5,409.5 222.6,410.3 222.7,410.7 222.8,410.1 222.9,410.7 223.0,410.4 223.1,408.1 223.2,407.5 223.3,405.9 223.4,406.1 223.5,402.4 223.6,403.1 223.7,403.7 223.8,404.0 223.9,406.8 224.0,406.2 224.1,407.0 224.2,408.4 224.3,408.8 224.4,411.1 224.5,411.3 224.6,411.6 224.8,410.5 224.9,412.2 225.0,409.7 225.1,406.8 225.2,405.2 225.3,405.7 225.4,403.5 225.5,403.5 225.6,403.9 225.7,404.7 225.8,404.9 225.9,407.1 226.0,410.2 226.1,407.9 226.2,409.6 226.3,411.4 226.4,412.7 226.5,410.5 226.6,410.7 226.7,412.0 226.8,408.1 226.9,406.4 227.0,406.1 227.1,404.5 227.2,403.8 227.3,403.3 227.4,402.8 227.5,403.9 227.6,404.4 227.7,405.6 227.8,406.1 227.9,407.4 228.0,411.8 228.1,413.1 228.2,412.2 228.3,412.4 228.4,411.1 228.5,408.9 228.6,410.2 228.7,409.0 228.8,406.6 228.9,406.6 229.0,406.4 229.1,402.9 229.2,403.8 229.3,403.7 229.4,405.6 229.5,408.5 229.6,406.3 229.7,410.6 229.8,410.6 229.9,410.2 230.0,411.8 230.1,411.5 230.2,411.1 230.3,410.1 230.4,408.3 230.5,407.8 230.6,408.9 230.7,408.9 230.8,404.2 230.9,402.6 231.0,404.1 231.1,405.0 231.2,405.2 231.3,406.1 231.4,406.8 231.5,408.8 231.6,409.6 231.7,410.9 231.8,411.5 231.9,413.4 232.0,409.8 232.1,411.7 232.2,408.3 232.3,406.8 232.4,407.5 232.5,405.0 232.6,404.8 232.7,404.6 232.8,402.7 232.9,403.3 233.0,406.5 233.1,405.4 233.2,407.7 233.3,412.0 233.4,409.4 233.5,410.6 233.6,410.8 233.7,411.1 233.8,412.2 233.9,410.5 234.0,407.7 234.1,407.7 234.2,409.1 234.3,406.6 234.4,403.7 234.5,404.8 234.6,402.5 234.7,407.1 234.8,405.8 234.9,407.6 235.0,407.0 235.1,410.5 235.2,408.3 235.3,411.6 235.4,410.5 235.5,411.2 235.6,411.3 235.7,411.3 235.8,409.4 235.9,406.5 236.0,407.3 236.1,407.8 236.2,403.5 236.3,402.5 236.4,403.0 236.5,403.5 236.6,404.8 236.7,406.6 236.8,409.3 236.9,407.8 237.0,410.2 237.1,410.3 237.2,411.4 237.3,413.9 237.4,410.8 237.5,409.8 237.6,408.3 237.7,407.9 237.8,405.9 237.9,403.7 238.0,404.0 238.1,402.9 238.2,402.3 238.3,403.0 238.5,405.4 238.6,406.1 238.7,407.0 238.8,407.5 238.9,411.2 239.0,409.7 239.1,411.1 239.2,411.0 239.3,409.6 239.4,410.0 239.5,408.8 239.6,407.6 239.7,405.7 239.8,405.5 239.9,405.4 240.0,403.2 240.1,403.0 240.2,404.4 240.3,404.8 240.4,406.1 240.5,409.1 240.6,409.2 240.7,409.7 240.8,409.8 240.9,411.1 241.0,410.6 241.1,410.8 241.2,410.8 241.3,412.6 241.4,410.6 241.5,411.4 241.6,408.8 241.7,410.4 241.8,407.6 241.9,410.2 242.0,407.8 242.1,411.4 242.2,413.6 242.3,414.2 242.4,413.4 242.5,412.7 242.6,413.6 242.7,415.8 242.8,416.3 242.9,419.2 243.0,416.4 243.1,416.7 243.2,417.6 243.3,414.9 243.4,414.7 243.5,413.5 243.6,418.7 243.7,442.6 243.8,416.6 243.9,414.1 244.0,421.1 244.1,415.9 244.2,416.7 244.3,420.7 244.4,416.2 244.5,420.2 244.6,419.3 244.7,422.1 244.8,418.4 244.9,418.0 245.0,422.5 245.1,419.3 245.2,422.4 245.3,418.4 245.4,417.2 245.5,418.3 245.6,427.8 245.7,422.8 245.8,420.1 245.9,421.8 246.0,417.6 246.1,423.2 246.2,421.4 246.3,427.5 246.4,420.7 246.5,421.2 246.6,423.9 246.7,418.4 246.8,423.4 246.9,419.5 247.0,420.1 247.1,428.4 247.2,422.8 247.3,419.1 247.4,425.6 247.5,426.0 247.6,421.5 247.7,423.2 247.8,419.0 247.9,419.8 248.0,421.3 248.1,420.1 248.2,422.8 248.3,417.3 248.4,418.7 248.5,418.8 248.6,422.2 248.7,421.6 248.8,419.8 248.9,422.4 249.0,426.8 249.1,421.8 249.2,420.8 249.3,418.6 249.4,418.5 249.5,418.9 249.6,421.1 249.7,418.6 249.8,418.5 249.9,421.0 250.0,421.0 250.1,424.4 250.2,420.7 250.3,421.0 250.4,422.4 250.5,429.6 250.6,421.8 250.7,427.9 250.8,420.7 250.9,418.3 251.0,419.0 251.1,423.5 251.2,417.0 251.3,424.0 251.4,419.5 251.5,420.9 251.6,421.5 251.7,418.7 251.8,423.0 251.9,421.9 252.0,431.5 252.2,421.5 252.3,418.3 252.4,419.4 252.5,417.3 252.6,424.8 252.7,420.3 252.8,419.2 252.9,418.3 253.0,421.4 253.1,419.7 253.2,420.6 253.3,417.3 253.4,425.0 253.5,418.3 253.6,423.4 253.7,425.3 253.8,421.4 253.9,423.3 254.0,417.1 254.1,424.7 254.2,420.9 254.3,430.8 254.4,422.5 254.5,425.3 254.6,418.5 254.7,418.7 254.8,416.4 254.9,427.4 255.0,416.3 255.1,417.0 255.2,422.7 255.3,417.7 255.4,424.8 255.5,421.7 255.6,421.7 255.7,419.0 255.8,422.2 255.9,428.2 256.0,423.6 256.1,417.5 256.2,420.4 256.3,422.2 256.4,423.5 256.5,421.3 256.6,424.4 256.7,418.6 256.8,417.7 256.9,420.1 257.0,423.9 257.1,419.5 257.2,417.7 257.3,419.9 257.4,419.4 257.5,420.2 257.6,416.6 257.7,420.4 257.8,429.4 257.9,420.6 258.0,421.7 258.1,426.4 258.2,423.2 258.3,425.8 258.4,418.8 258.5,419.0 258.6,418.5 258.7,430.5 258.8,418.0 258.9,428.8 259.0,423.6 259.1,417.4 259.2,420.9 259.3,420.6 259.4,422.4 259.5,418.4 259.6,420.1 259.7,418.7 259.8,428.5 259.9,420.5 260.0,417.8 260.1,421.1 260.2,420.8 260.3,420.5 260.4,422.4 260.5,417.3 260.6,417.8 260.7,422.2 260.8,423.5 260.9,422.5 261.0,420.7 261.1,422.1 261.2,425.5 261.3,422.9 261.4,419.2 261.5,417.2 261.6,419.2 261.7,424.7 261.8,426.5 261.9,426.1 262.0,422.9 262.1,426.4 262.2,419.8 262.3,418.2 262.4,418.6 262.5,427.3" fill="none" stroke="#1f77b4" stroke-width="0.6" stroke-linejoin="round"/>
<polygon points="217.80,356.3 218.75,397.1 216.85,397.1" fill="#1f77b4"/>
<path d="M216.15,395.6 l0.7,8.8 h-1.4z M219.45,395.6 l0.7,8.8 h-1.4z M214.00,400.8 l0.65,6 h-1.3z M221.60,400.8 l0.65,6 h-1.3z" fill="#1f77b4"/>
</g>
<line x1="221.6" x2="236.3" y1="374.4" y2="374.4" stroke="#222" stroke-width="0.8"/><text y="376.7" class="an"><tspan x="239.4"><tspan font-style="normal">1</tspan>st order</tspan></text>
<line x1="243.0" x2="257.3" y1="400.8" y2="400.8" stroke="#aaa" stroke-width="0.8"/><text y="403.1" class="an"><tspan x="259.6">Oth order</tspan></text>
<line x1="267.3" x2="282.3" y1="413.2" y2="413.2" stroke="#999" stroke-width="0.8"/><text y="415.5" class="an"><tspan x="284.1"><tspan font-style="normal">3</tspan>rd/</tspan><tspan x="299.4"><tspan font-size="5.6">−</tspan></tspan><tspan x="305.8"><tspan font-style="normal">1</tspan>st order</tspan></text>
<line x1="316.0" x2="330.7" y1="428.1" y2="428.1" stroke="#222" stroke-width="0.8"/><text y="430.4" class="an"><tspan x="332.3"><tspan font-style="normal">5</tspan>th/</tspan><tspan x="347.4"><tspan font-size="5.6">−</tspan></tspan><tspan x="353.4"><tspan font-style="normal">3</tspan>rd order</tspan></text>
<rect x="47.6" y="349.9" width="340.4" height="162.8" fill="none" stroke="#000" stroke-width="0.8"/>
<line x1="72.7" x2="72.7" y1="512.7" y2="516.2" class="tk"/><text x="72.7" y="527.9" text-anchor="middle" class="tl">−120</text>
<line x1="121.1" x2="121.1" y1="512.7" y2="516.2" class="tk"/><text x="121.1" y="527.9" text-anchor="middle" class="tl">−80</text>
<line x1="169.4" x2="169.4" y1="512.7" y2="516.2" class="tk"/><text x="169.4" y="527.9" text-anchor="middle" class="tl">−40</text>
<line x1="217.8" x2="217.8" y1="512.7" y2="516.2" class="tk"/><text x="217.8" y="527.9" text-anchor="middle" class="tl">0</text>
<line x1="266.2" x2="266.2" y1="512.7" y2="516.2" class="tk"/><text x="266.2" y="527.9" text-anchor="middle" class="tl">40</text>
<line x1="314.5" x2="314.5" y1="512.7" y2="516.2" class="tk"/><text x="314.5" y="527.9" text-anchor="middle" class="tl">80</text>
<line x1="362.9" x2="362.9" y1="512.7" y2="516.2" class="tk"/><text x="362.9" y="527.9" text-anchor="middle" class="tl">120</text>
<line x1="44.1" x2="47.6" y1="357.5" y2="357.5" class="tk"/><text x="41.0" y="360.1" text-anchor="end" class="ts">10<tspan dy="-3.3" font-size="5.3">0</tspan></text>
<line x1="44.1" x2="47.6" y1="383.9" y2="383.9" class="tk"/><text x="41.0" y="386.5" text-anchor="end" class="ts">10<tspan dy="-3.3" font-size="5.3">−2</tspan></text>
<line x1="44.1" x2="47.6" y1="410.3" y2="410.3" class="tk"/><text x="41.0" y="412.9" text-anchor="end" class="ts">10<tspan dy="-3.3" font-size="5.3">−4</tspan></text>
<line x1="44.1" x2="47.6" y1="436.7" y2="436.7" class="tk"/><text x="41.0" y="439.3" text-anchor="end" class="ts">10<tspan dy="-3.3" font-size="5.3">−6</tspan></text>
<line x1="44.1" x2="47.6" y1="463.1" y2="463.1" class="tk"/><text x="41.0" y="465.7" text-anchor="end" class="ts">10<tspan dy="-3.3" font-size="5.3">−8</tspan></text>
<line x1="44.1" x2="47.6" y1="489.5" y2="489.5" class="tk"/><text x="41.0" y="492.1" text-anchor="end" class="ts">10<tspan dy="-3.3" font-size="5.3">−10</tspan></text>
<text x="217.2" y="539.2" text-anchor="middle" class="al" style="font-size:9.5px">µm</text>
<text transform="translate(14.2,431.3) rotate(-90)" text-anchor="middle" class="al" style="word-spacing:4.6px">Normalised Intensity</text>
<text x="58.6" y="372.9" class="pl" fill="#000">(b)</text>
</svg>
</body></html>
